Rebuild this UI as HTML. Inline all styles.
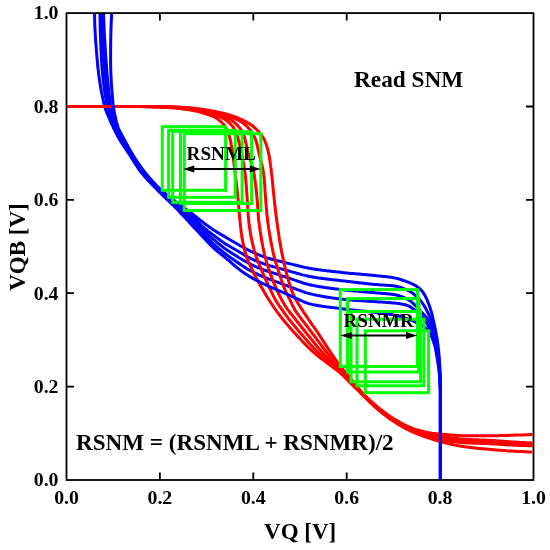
<!DOCTYPE html>
<html><head><meta charset="utf-8"><title>Read SNM</title>
<style>html,body{margin:0;padding:0;background:#fff}svg{display:block}text{font-family:"Liberation Serif","DejaVu Serif",serif;font-weight:bold;fill:#000}</style></head><body>
<svg width="550" height="550" viewBox="0 0 550 550">
<rect width="550" height="550" fill="#fff"/>
<defs><clipPath id="c"><rect x="67.4" y="14.0" width="465.2" height="465.1"/></clipPath></defs>
<rect x="66.5" y="13.1" width="467.0" height="466.9" fill="none" stroke="#000" stroke-width="1.8"/>
<path d="M159.9,480.0v-7.5M159.9,13.1v7.5M66.5,386.6h7.5M533.5,386.6h-7.5M253.3,480.0v-7.5M253.3,13.1v7.5M66.5,293.2h7.5M533.5,293.2h-7.5M346.7,480.0v-7.5M346.7,13.1v7.5M66.5,199.9h7.5M533.5,199.9h-7.5M440.1,480.0v-7.5M440.1,13.1v7.5M66.5,106.5h7.5M533.5,106.5h-7.5" stroke="#000" stroke-width="1.8" fill="none"/>
<g clip-path="url(#c)" fill="none" stroke-width="3" stroke-linejoin="round">
<path d="M440.4,481.0 L440.4,480.0 L440.4,479.0 L440.4,478.0 L440.4,477.0 L440.4,476.0 L440.4,475.0 L440.4,474.0 L440.4,473.0 L440.4,472.0 L440.4,471.0 L440.4,470.0 L440.4,469.0 L440.4,468.0 L440.4,467.0 L440.4,466.0 L440.4,465.0 L440.4,464.0 L440.4,463.0 L440.4,462.0 L440.4,461.0 L440.4,460.0 L440.4,459.0 L440.4,458.0 L440.4,457.0 L440.4,456.0 L440.4,455.0 L440.4,454.0 L440.4,453.0 L440.4,452.0 L440.4,451.0 L440.4,450.0 L440.4,449.0 L440.4,448.0 L440.4,447.0 L440.4,446.0 L440.4,445.0 L440.4,444.0 L440.4,443.0 L440.4,442.0 L440.4,441.0 L440.4,440.0 L440.4,439.0 L440.4,438.0 L440.4,437.0 L440.4,436.0 L440.4,435.0 L440.4,434.0 L440.4,433.0 L440.4,432.0 L440.4,431.0 L440.4,430.0 L440.4,429.0 L440.4,428.0 L440.4,427.0 L440.4,426.0 L440.4,425.0 L440.4,424.0 L440.4,423.0 L440.4,422.0 L440.4,421.0 L440.4,420.0 L440.4,419.0 L440.4,418.0 L440.4,417.0 L440.4,416.0 L440.4,415.0 L440.4,414.0 L440.4,413.0 L440.4,412.0 L440.4,411.0 L440.4,410.0 L440.4,409.0 L440.4,408.0 L440.4,407.0 L440.4,406.0 L440.4,405.0 L440.4,404.0 L440.4,403.0 L440.4,402.0 L440.4,401.0 L440.4,400.0 L440.4,399.0 L440.4,398.0 L440.4,397.0 L440.4,396.0 L440.4,395.0 L440.4,394.0 L440.4,393.0 L440.4,392.0 L440.4,391.0 L440.4,390.0 L440.4,389.0 L440.4,388.0 L440.4,387.0 L440.4,386.0 L440.4,385.0 L440.3,384.0 L440.3,383.0 L440.3,382.0 L440.3,381.0 L440.3,380.0 L440.2,379.0 L440.2,378.0 L440.2,377.0 L440.1,376.0 L440.1,375.0 L440.1,374.0 L440.1,373.0 L440.0,372.0 L440.0,371.0 L440.0,370.0 L439.9,369.0 L439.9,368.0 L439.8,367.0 L439.8,366.0 L439.7,365.0 L439.7,364.0 L439.6,363.0 L439.5,362.0 L439.5,361.0 L439.4,360.0 L439.3,359.0 L439.3,358.0 L439.2,357.0 L439.1,356.0 L439.0,355.0 L438.9,354.0 L438.8,353.0 L438.7,352.0 L438.6,351.0 L438.5,350.1 L438.4,349.1 L438.3,348.1 L438.2,347.1 L438.1,346.1 L437.9,345.1 L437.8,344.1 L437.7,343.1 L437.5,342.1 L437.4,341.1 L437.2,340.1 L437.1,339.1 L436.9,338.2 L436.8,337.2 L436.6,336.2 L436.4,335.2 L436.3,334.2 L436.1,333.2 L435.9,332.3 L435.7,331.3 L435.5,330.3 L435.3,329.3 L435.1,328.3 L434.9,327.3 L434.7,326.4 L434.5,325.4 L434.3,324.4 L434.1,323.4 L433.8,322.5 L433.6,321.5 L433.4,320.5 L433.2,319.5 L433.0,318.6 L432.7,317.6 L432.5,316.6 L432.3,315.6 L432.0,314.7 L431.8,313.7 L431.5,312.7 L431.2,311.8 L431.0,310.8 L430.7,309.9 L430.4,308.9 L430.1,307.9 L429.8,307.0 L429.5,306.0 L429.1,305.1 L428.8,304.2 L428.4,303.2 L428.1,302.3 L427.7,301.4 L427.3,300.4 L426.9,299.5 L426.5,298.6 L426.1,297.7 L425.6,296.8 L425.2,295.9 L424.7,295.0 L424.2,294.2 L423.7,293.3 L423.1,292.5 L422.5,291.7 L421.9,290.9 L421.3,290.2 L420.6,289.5 L419.9,288.8 L419.1,288.1 L418.3,287.5 L417.5,286.9 L416.7,286.4 L415.9,285.8 L415.0,285.3 L414.1,284.9 L413.2,284.4 L412.3,284.0 L411.4,283.5 L410.5,283.1 L409.6,282.7 L408.7,282.4 L407.7,282.0 L406.8,281.6 L405.9,281.3 L404.9,280.9 L404.0,280.6 L403.0,280.3 L402.1,280.0 L401.1,279.6 L400.2,279.3 L399.2,279.1 L398.2,278.8 L397.3,278.5 L396.3,278.3 L395.3,278.1 L394.4,277.9 L393.4,277.7 L392.4,277.5 L391.4,277.3 L390.4,277.2 L389.5,277.1 L388.5,276.9 L387.5,276.8 L386.5,276.7 L385.5,276.6 L384.5,276.5 L383.5,276.4 L382.5,276.3 L381.5,276.2 L380.5,276.1 L379.5,276.0 L378.5,275.9 L377.5,275.8 L376.5,275.7 L375.5,275.6 L374.5,275.5 L373.5,275.4 L372.5,275.3 L371.5,275.2 L370.5,275.1 L369.5,275.0 L368.6,274.9 L367.6,274.8 L366.6,274.7 L365.6,274.7 L364.6,274.6 L363.6,274.5 L362.6,274.4 L361.6,274.3 L360.6,274.2 L359.6,274.1 L358.6,274.1 L357.6,274.0 L356.6,273.9 L355.6,273.8 L354.6,273.7 L353.6,273.6 L352.6,273.5 L351.6,273.4 L350.6,273.4 L349.6,273.3 L348.6,273.2 L347.6,273.1 L346.6,273.0 L345.6,272.9 L344.6,272.8 L343.7,272.7 L342.7,272.6 L341.7,272.4 L340.7,272.3 L339.7,272.2 L338.7,272.1 L337.7,272.0 L336.7,271.9 L335.7,271.8 L334.7,271.7 L333.7,271.6 L332.7,271.5 L331.7,271.4 L330.7,271.2 L329.7,271.1 L328.7,271.0 L327.7,270.9 L326.7,270.8 L325.7,270.6 L324.7,270.5 L323.8,270.4 L322.8,270.3 L321.8,270.1 L320.8,270.0 L319.8,269.9 L318.8,269.7 L317.8,269.6 L316.8,269.5 L315.8,269.3 L314.8,269.2 L313.9,269.0 L312.9,268.9 L311.9,268.7 L310.9,268.5 L309.9,268.4 L308.9,268.2 L308.0,268.0 L307.0,267.8 L306.0,267.6 L305.0,267.4 L304.1,267.2 L303.1,266.9 L302.1,266.7 L301.1,266.5 L300.2,266.3 L299.2,266.0 L298.2,265.8 L297.2,265.5 L296.3,265.3 L295.3,265.1 L294.3,264.8 L293.3,264.6 L292.4,264.4 L291.4,264.1 L290.4,263.9 L289.5,263.7 L288.5,263.4 L287.5,263.2 L286.5,263.0 L285.6,262.7 L284.6,262.5 L283.6,262.2 L282.7,262.0 L281.7,261.7 L280.7,261.5 L279.8,261.2 L278.8,261.0 L277.8,260.7 L276.8,260.5 L275.9,260.2 L274.9,260.0 L273.9,259.7 L273.0,259.5 L272.0,259.2 L271.0,259.0 L270.1,258.7 L269.1,258.4 L268.1,258.1 L267.2,257.9 L266.2,257.6 L265.3,257.2 L264.4,256.9 L263.4,256.6 L262.5,256.3 L261.5,255.9 L260.6,255.6 L259.7,255.2 L258.7,254.8 L257.8,254.4 L256.9,254.0 L256.0,253.6 L255.1,253.2 L254.1,252.8 L253.2,252.4 L252.3,252.0 L251.4,251.5 L250.5,251.1 L249.6,250.7 L248.7,250.2 L247.8,249.8 L247.0,249.3 L246.1,248.9 L245.2,248.4 L244.3,247.9 L243.4,247.4 L242.6,246.9 L241.7,246.4 L240.8,246.0 L239.9,245.5 L239.1,245.0 L238.2,244.5 L237.3,244.0 L236.5,243.5 L235.6,243.0 L234.7,242.5 L233.9,242.0 L233.0,241.5 L232.1,241.0 L231.3,240.5 L230.4,240.0 L229.5,239.5 L228.7,239.0 L227.8,238.5 L227.0,238.0 L226.1,237.4 L225.2,236.9 L224.4,236.4 L223.5,235.9 L222.6,235.4 L221.8,234.9 L220.9,234.4 L220.0,233.9 L219.2,233.4 L218.3,232.9 L217.5,232.4 L216.6,231.9 L215.8,231.3 L214.9,230.8 L214.1,230.3 L213.2,229.7 L212.4,229.2 L211.6,228.6 L210.8,228.0 L209.9,227.5 L209.1,226.9 L208.3,226.3 L207.5,225.7 L206.7,225.1 L205.9,224.5 L205.1,224.0 L204.3,223.4 L203.5,222.7 L202.7,222.1 L201.9,221.5 L201.1,220.9 L200.3,220.3 L199.5,219.7 L198.8,219.0 L198.0,218.4 L197.2,217.8 L196.4,217.1 L195.7,216.5 L194.9,215.9 L194.1,215.2 L193.3,214.6 L192.5,214.0 L191.7,213.4 L190.9,212.8 L190.1,212.2 L189.3,211.6 L188.5,211.0 L187.7,210.5 L186.9,209.9 L186.1,209.3 L185.3,208.7 L184.4,208.1 L183.6,207.6 L182.8,207.0 L182.0,206.4 L181.2,205.8 L180.4,205.2 L179.6,204.6 L178.8,204.0 L178.0,203.4 L177.2,202.8 L176.4,202.3 L175.6,201.6 L174.8,201.0 L174.0,200.4 L173.2,199.8 L172.4,199.2 L171.6,198.6 L170.8,198.0 L170.0,197.4 L169.2,196.8 L168.4,196.2 L167.6,195.5 L166.8,194.9 L166.1,194.3 L165.3,193.6 L164.5,193.0 L163.8,192.3 L163.0,191.7 L162.3,191.0 L161.6,190.4 L160.8,189.7 L160.1,189.0 L159.4,188.3 L158.7,187.6 L157.9,186.9 L157.2,186.2 L156.5,185.5 L155.8,184.8 L155.1,184.0 L154.4,183.3 L153.8,182.6 L153.1,181.8 L152.4,181.1 L151.7,180.4 L151.1,179.6 L150.4,178.9 L149.7,178.1 L149.1,177.3 L148.4,176.6 L147.8,175.8 L147.1,175.0 L146.5,174.3 L145.9,173.5 L145.3,172.7 L144.6,171.9 L144.0,171.2 L143.4,170.4 L142.8,169.6 L142.2,168.8 L141.6,168.0 L141.0,167.2 L140.5,166.3 L139.9,165.5 L139.3,164.7 L138.7,163.9 L138.2,163.1 L137.6,162.2 L137.0,161.4 L136.5,160.6 L135.9,159.7 L135.4,158.9 L134.8,158.0 L134.3,157.2 L133.8,156.4 L133.2,155.5 L132.7,154.7 L132.2,153.8 L131.7,152.9 L131.2,152.1 L130.7,151.2 L130.2,150.4 L129.7,149.5 L129.2,148.6 L128.7,147.8 L128.2,146.9 L127.7,146.0 L127.2,145.1 L126.8,144.2 L126.3,143.4 L125.8,142.5 L125.3,141.6 L124.9,140.7 L124.4,139.8 L123.9,138.9 L123.5,138.1 L123.0,137.2 L122.5,136.3 L122.0,135.4 L121.6,134.5 L121.1,133.6 L120.6,132.8 L120.1,131.9 L119.6,131.0 L119.1,130.1 L118.6,129.2 L118.2,128.3 L117.7,127.5 L117.2,126.6 L116.8,125.7 L116.4,124.8 L116.0,123.9 L115.6,123.0 L115.2,122.0 L114.8,121.1 L114.5,120.2 L114.1,119.3 L113.8,118.3 L113.5,117.4 L113.2,116.4 L112.9,115.5 L112.7,114.5 L112.4,113.5 L112.1,112.6 L111.9,111.6 L111.7,110.6 L111.5,109.6 L111.3,108.6 L111.1,107.7 L110.9,106.7 L110.7,105.7 L110.6,104.7 L110.4,103.7 L110.3,102.8 L110.1,101.8 L110.0,100.8 L109.8,99.8 L109.7,98.8 L109.6,97.8 L109.4,96.8 L109.3,95.8 L109.2,94.9 L109.1,93.9 L108.9,92.9 L108.8,91.9 L108.7,90.9 L108.6,89.9 L108.5,88.9 L108.4,87.9 L108.3,86.9 L108.2,85.9 L108.1,84.9 L108.0,83.9 L107.9,82.9 L107.8,81.9 L107.7,80.9 L107.6,79.9 L107.5,78.9 L107.4,77.9 L107.3,76.9 L107.2,75.9 L107.1,74.9 L107.1,73.9 L107.0,72.9 L106.9,71.9 L106.8,70.9 L106.7,69.9 L106.7,68.9 L106.6,67.9 L106.5,66.9 L106.4,65.9 L106.4,64.9 L106.3,63.9 L106.2,62.9 L106.1,61.9 L106.1,60.9 L106.0,59.9 L105.9,58.9 L105.9,57.9 L105.8,56.9 L105.7,55.9 L105.7,55.0 L105.6,54.0 L105.5,53.0 L105.5,52.0 L105.4,51.0 L105.3,50.0 L105.3,49.0 L105.2,48.0 L105.1,47.0 L105.1,46.0 L105.0,45.0 L105.0,44.0 L104.9,43.0 L104.8,42.0 L104.8,41.0 L104.7,40.0 L104.7,39.0 L104.6,38.0 L104.5,37.0 L104.5,36.0 L104.4,35.0 L104.4,34.0 L104.3,33.0 L104.3,32.0 L104.2,31.0 L104.2,30.0 L104.1,29.0 L104.1,28.0 L104.0,27.0 L104.0,26.0 L104.0,25.0 L103.9,24.0 L103.9,23.0 L103.8,22.0 L103.8,21.0 L103.8,20.0 L103.7,19.0 L103.7,18.0 L103.7,17.0 L103.6,16.0 L103.6,15.0 L103.6,14.0 L103.5,13.0 L103.5,12.0" stroke="#00f"/>
<path d="M440.4,481.0 L440.4,480.0 L440.4,479.0 L440.4,478.0 L440.4,477.0 L440.4,476.0 L440.4,475.0 L440.4,474.0 L440.4,473.0 L440.4,472.0 L440.4,471.0 L440.4,470.0 L440.4,469.0 L440.4,468.0 L440.4,467.0 L440.4,466.0 L440.4,465.0 L440.4,464.0 L440.4,463.0 L440.4,462.0 L440.4,461.0 L440.4,460.0 L440.4,459.0 L440.4,458.0 L440.4,457.0 L440.4,456.0 L440.4,455.0 L440.4,454.0 L440.4,453.0 L440.4,452.0 L440.4,451.0 L440.4,450.0 L440.4,449.0 L440.4,448.0 L440.4,447.0 L440.4,446.0 L440.4,445.0 L440.4,444.0 L440.4,443.0 L440.4,442.0 L440.4,441.0 L440.4,440.0 L440.4,439.0 L440.4,438.0 L440.4,437.0 L440.4,436.0 L440.4,435.0 L440.4,434.0 L440.4,433.0 L440.4,432.0 L440.4,431.0 L440.4,430.0 L440.4,429.0 L440.4,428.0 L440.4,427.0 L440.4,426.0 L440.4,425.0 L440.4,424.0 L440.4,423.0 L440.4,422.0 L440.4,421.0 L440.4,420.0 L440.4,419.0 L440.4,418.0 L440.4,417.0 L440.4,416.0 L440.4,415.0 L440.4,414.0 L440.4,413.0 L440.4,412.0 L440.4,411.0 L440.4,410.0 L440.4,409.0 L440.4,408.0 L440.4,407.0 L440.4,406.0 L440.4,405.0 L440.4,404.0 L440.4,403.0 L440.4,402.0 L440.4,401.0 L440.4,400.0 L440.4,399.0 L440.4,398.0 L440.4,397.0 L440.4,396.0 L440.4,395.0 L440.4,394.0 L440.4,393.0 L440.4,392.0 L440.4,391.0 L440.4,390.0 L440.4,389.0 L440.4,388.0 L440.4,387.0 L440.3,386.0 L440.3,385.0 L440.3,384.0 L440.3,383.0 L440.2,382.0 L440.2,381.0 L440.2,380.0 L440.1,379.0 L440.1,378.0 L440.1,377.0 L440.0,376.0 L440.0,375.0 L439.9,374.0 L439.9,373.0 L439.8,372.0 L439.8,371.0 L439.7,370.0 L439.7,369.0 L439.6,368.0 L439.5,367.0 L439.5,366.0 L439.4,365.0 L439.3,364.0 L439.2,363.0 L439.1,362.0 L439.1,361.0 L439.0,360.0 L438.9,359.0 L438.8,358.0 L438.7,357.0 L438.6,356.0 L438.5,355.0 L438.3,354.0 L438.2,353.0 L438.1,352.0 L438.0,351.0 L437.8,350.1 L437.7,349.1 L437.6,348.1 L437.4,347.1 L437.3,346.1 L437.1,345.1 L436.9,344.1 L436.8,343.1 L436.6,342.2 L436.4,341.2 L436.2,340.2 L436.0,339.2 L435.8,338.2 L435.6,337.2 L435.4,336.3 L435.2,335.3 L435.0,334.3 L434.7,333.3 L434.5,332.4 L434.3,331.4 L434.0,330.4 L433.8,329.5 L433.5,328.5 L433.3,327.5 L433.0,326.6 L432.7,325.6 L432.4,324.6 L432.2,323.7 L431.9,322.7 L431.5,321.8 L431.2,320.8 L430.9,319.9 L430.5,319.0 L430.2,318.0 L429.8,317.1 L429.4,316.2 L429.0,315.3 L428.6,314.3 L428.2,313.4 L427.7,312.5 L427.3,311.6 L426.9,310.7 L426.4,309.8 L425.9,308.9 L425.5,308.1 L425.0,307.2 L424.5,306.3 L424.0,305.5 L423.4,304.6 L422.9,303.8 L422.3,303.0 L421.7,302.2 L421.1,301.4 L420.5,300.6 L419.8,299.9 L419.2,299.1 L418.5,298.4 L417.8,297.6 L417.1,296.9 L416.4,296.2 L415.6,295.6 L414.9,294.9 L414.1,294.3 L413.3,293.7 L412.5,293.1 L411.7,292.5 L410.8,292.0 L410.0,291.5 L409.1,291.0 L408.2,290.6 L407.3,290.1 L406.4,289.7 L405.5,289.3 L404.6,288.9 L403.6,288.6 L402.7,288.2 L401.7,287.8 L400.8,287.5 L399.8,287.2 L398.9,286.9 L397.9,286.7 L396.9,286.4 L395.9,286.2 L395.0,286.1 L394.0,285.9 L393.0,285.8 L392.0,285.7 L391.0,285.6 L390.0,285.5 L389.0,285.4 L388.0,285.4 L387.0,285.3 L386.0,285.3 L385.0,285.2 L384.0,285.1 L383.0,285.1 L382.0,285.0 L381.0,285.0 L380.0,284.9 L379.0,284.8 L378.0,284.7 L377.0,284.6 L376.0,284.6 L375.0,284.5 L374.1,284.4 L373.1,284.3 L372.1,284.2 L371.1,284.1 L370.1,284.0 L369.1,283.9 L368.1,283.8 L367.1,283.7 L366.1,283.6 L365.1,283.5 L364.1,283.3 L363.1,283.2 L362.1,283.1 L361.1,283.0 L360.1,282.9 L359.1,282.8 L358.1,282.7 L357.1,282.5 L356.1,282.4 L355.2,282.3 L354.2,282.2 L353.2,282.1 L352.2,282.0 L351.2,281.8 L350.2,281.7 L349.2,281.6 L348.2,281.5 L347.2,281.4 L346.2,281.2 L345.2,281.1 L344.2,281.0 L343.2,280.9 L342.2,280.8 L341.2,280.7 L340.2,280.6 L339.2,280.4 L338.3,280.3 L337.3,280.2 L336.3,280.1 L335.3,280.0 L334.3,279.9 L333.3,279.8 L332.3,279.7 L331.3,279.6 L330.3,279.4 L329.3,279.3 L328.3,279.2 L327.3,279.1 L326.3,279.0 L325.3,278.8 L324.3,278.7 L323.3,278.6 L322.3,278.5 L321.3,278.3 L320.3,278.2 L319.4,278.1 L318.4,277.9 L317.4,277.8 L316.4,277.6 L315.4,277.5 L314.4,277.3 L313.4,277.2 L312.5,277.0 L311.5,276.8 L310.5,276.6 L309.5,276.5 L308.5,276.3 L307.6,276.0 L306.6,275.8 L305.6,275.6 L304.7,275.4 L303.7,275.1 L302.7,274.9 L301.7,274.6 L300.8,274.3 L299.8,274.1 L298.9,273.8 L297.9,273.5 L296.9,273.2 L296.0,273.0 L295.0,272.7 L294.0,272.4 L293.1,272.2 L292.1,271.9 L291.1,271.6 L290.2,271.4 L289.2,271.1 L288.2,270.8 L287.3,270.6 L286.3,270.3 L285.4,270.0 L284.4,269.7 L283.4,269.5 L282.5,269.2 L281.5,268.9 L280.5,268.7 L279.6,268.4 L278.6,268.1 L277.6,267.9 L276.7,267.6 L275.7,267.3 L274.7,267.1 L273.8,266.8 L272.8,266.5 L271.9,266.2 L270.9,266.0 L269.9,265.7 L269.0,265.4 L268.0,265.1 L267.1,264.8 L266.1,264.5 L265.2,264.2 L264.2,263.9 L263.3,263.6 L262.3,263.2 L261.4,262.9 L260.4,262.6 L259.5,262.2 L258.6,261.9 L257.6,261.5 L256.7,261.1 L255.8,260.7 L254.8,260.3 L253.9,260.0 L253.0,259.5 L252.1,259.1 L251.2,258.7 L250.3,258.3 L249.4,257.8 L248.5,257.4 L247.7,256.9 L246.8,256.4 L245.9,255.9 L245.1,255.4 L244.2,254.9 L243.3,254.4 L242.5,253.8 L241.6,253.3 L240.8,252.8 L239.9,252.3 L239.0,251.8 L238.2,251.3 L237.3,250.8 L236.4,250.3 L235.6,249.8 L234.7,249.3 L233.8,248.8 L233.0,248.3 L232.1,247.8 L231.2,247.3 L230.4,246.8 L229.5,246.3 L228.6,245.8 L227.8,245.3 L226.9,244.8 L226.1,244.2 L225.2,243.7 L224.4,243.2 L223.6,242.6 L222.7,242.0 L221.9,241.5 L221.1,240.9 L220.3,240.3 L219.5,239.7 L218.7,239.1 L217.9,238.5 L217.1,237.9 L216.3,237.3 L215.5,236.7 L214.7,236.1 L213.9,235.5 L213.0,234.9 L212.2,234.3 L211.4,233.7 L210.6,233.1 L209.8,232.5 L209.0,231.9 L208.3,231.3 L207.5,230.7 L206.7,230.0 L205.9,229.4 L205.1,228.8 L204.3,228.1 L203.6,227.5 L202.8,226.8 L202.1,226.2 L201.4,225.5 L200.7,224.8 L200.0,224.1 L199.3,223.4 L198.6,222.6 L197.9,221.9 L197.3,221.2 L196.6,220.4 L195.9,219.7 L195.2,218.9 L194.6,218.2 L193.9,217.5 L193.1,216.8 L192.4,216.2 L191.7,215.5 L190.9,214.9 L190.1,214.2 L189.4,213.6 L188.6,213.0 L187.8,212.4 L187.0,211.8 L186.2,211.2 L185.4,210.6 L184.6,210.0 L183.8,209.4 L183.0,208.8 L182.1,208.2 L181.3,207.6 L180.5,207.0 L179.7,206.4 L178.9,205.8 L178.1,205.1 L177.4,204.5 L176.6,203.9 L175.8,203.3 L175.0,202.7 L174.2,202.0 L173.4,201.4 L172.7,200.8 L171.9,200.1 L171.1,199.5 L170.3,198.8 L169.6,198.2 L168.8,197.6 L168.0,196.9 L167.3,196.3 L166.5,195.6 L165.8,195.0 L165.0,194.3 L164.3,193.7 L163.5,193.0 L162.8,192.3 L162.0,191.6 L161.3,191.0 L160.6,190.3 L159.8,189.6 L159.1,188.9 L158.4,188.2 L157.7,187.5 L157.0,186.8 L156.3,186.1 L155.5,185.4 L154.8,184.7 L154.1,184.0 L153.4,183.2 L152.7,182.5 L152.0,181.8 L151.4,181.1 L150.7,180.3 L150.0,179.6 L149.3,178.9 L148.6,178.1 L148.0,177.4 L147.3,176.6 L146.7,175.9 L146.0,175.1 L145.4,174.3 L144.8,173.6 L144.1,172.8 L143.5,172.0 L142.9,171.2 L142.3,170.4 L141.7,169.6 L141.1,168.8 L140.5,168.0 L139.9,167.2 L139.3,166.4 L138.8,165.6 L138.2,164.8 L137.6,163.9 L137.1,163.1 L136.5,162.3 L135.9,161.4 L135.4,160.6 L134.8,159.8 L134.3,158.9 L133.7,158.1 L133.2,157.3 L132.6,156.4 L132.1,155.6 L131.6,154.7 L131.0,153.9 L130.5,153.1 L129.9,152.2 L129.4,151.4 L128.8,150.5 L128.3,149.7 L127.7,148.9 L127.2,148.0 L126.6,147.2 L126.1,146.3 L125.6,145.5 L125.0,144.6 L124.5,143.8 L124.0,142.9 L123.5,142.1 L123.0,141.2 L122.5,140.3 L122.0,139.5 L121.5,138.6 L121.0,137.7 L120.6,136.8 L120.1,135.9 L119.6,135.1 L119.2,134.2 L118.7,133.3 L118.3,132.4 L117.9,131.5 L117.4,130.6 L117.0,129.7 L116.6,128.8 L116.2,127.8 L115.8,126.9 L115.4,126.0 L115.0,125.1 L114.6,124.1 L114.2,123.2 L113.9,122.3 L113.5,121.3 L113.2,120.4 L112.9,119.5 L112.5,118.5 L112.2,117.6 L111.9,116.6 L111.6,115.7 L111.4,114.7 L111.1,113.7 L110.8,112.8 L110.5,111.8 L110.3,110.8 L110.1,109.9 L109.9,108.9 L109.6,107.9 L109.4,106.9 L109.3,105.9 L109.1,105.0 L108.9,104.0 L108.7,103.0 L108.6,102.0 L108.4,101.0 L108.3,100.1 L108.1,99.1 L108.0,98.1 L107.8,97.1 L107.7,96.1 L107.5,95.1 L107.4,94.1 L107.2,93.1 L107.1,92.2 L107.0,91.2 L106.9,90.2 L106.7,89.2 L106.6,88.2 L106.5,87.2 L106.4,86.2 L106.2,85.2 L106.1,84.2 L106.0,83.2 L105.9,82.2 L105.8,81.2 L105.7,80.2 L105.6,79.2 L105.5,78.2 L105.4,77.2 L105.3,76.2 L105.2,75.2 L105.1,74.2 L105.0,73.2 L104.9,72.2 L104.8,71.2 L104.7,70.2 L104.7,69.2 L104.6,68.2 L104.5,67.2 L104.4,66.2 L104.4,65.2 L104.3,64.2 L104.2,63.2 L104.1,62.2 L104.1,61.2 L104.0,60.2 L104.0,59.2 L103.9,58.2 L103.8,57.2 L103.8,56.2 L103.7,55.2 L103.7,54.2 L103.6,53.2 L103.5,52.2 L103.5,51.2 L103.4,50.3 L103.4,49.3 L103.3,48.3 L103.2,47.3 L103.2,46.3 L103.1,45.3 L103.1,44.3 L103.0,43.3 L103.0,42.3 L102.9,41.3 L102.9,40.3 L102.8,39.3 L102.8,38.3 L102.7,37.3 L102.7,36.3 L102.6,35.3 L102.6,34.3 L102.5,33.3 L102.5,32.3 L102.5,31.3 L102.4,30.3 L102.4,29.3 L102.4,28.3 L102.3,27.3 L102.3,26.3 L102.3,25.3 L102.2,24.3 L102.2,23.3 L102.2,22.3 L102.1,21.3 L102.1,20.3 L102.1,19.3 L102.1,18.3 L102.1,17.3 L102.1,16.3 L102.0,15.3 L102.0,14.3 L102.0,13.3 L102.0,12.3" stroke="#00f"/>
<path d="M440.4,481.0 L440.4,480.0 L440.4,479.0 L440.4,478.0 L440.4,477.0 L440.4,476.0 L440.4,475.0 L440.4,474.0 L440.4,473.0 L440.4,472.0 L440.4,471.0 L440.4,470.0 L440.4,469.0 L440.4,468.0 L440.4,467.0 L440.4,466.0 L440.4,465.0 L440.4,464.0 L440.4,463.0 L440.4,462.0 L440.4,461.0 L440.4,460.0 L440.4,459.0 L440.4,458.0 L440.4,457.0 L440.4,456.0 L440.4,455.0 L440.4,454.0 L440.4,453.0 L440.4,452.0 L440.4,451.0 L440.4,450.0 L440.4,449.0 L440.4,448.0 L440.4,447.0 L440.4,446.0 L440.4,445.0 L440.4,444.0 L440.4,443.0 L440.4,442.0 L440.4,441.0 L440.4,440.0 L440.4,439.0 L440.4,438.0 L440.4,437.0 L440.4,436.0 L440.4,435.0 L440.4,434.0 L440.4,433.0 L440.4,432.0 L440.4,431.0 L440.4,430.0 L440.4,429.0 L440.4,428.0 L440.4,427.0 L440.4,426.0 L440.4,425.0 L440.4,424.0 L440.4,423.0 L440.4,422.0 L440.4,421.0 L440.4,420.0 L440.4,419.0 L440.4,418.0 L440.4,417.0 L440.4,416.0 L440.4,415.0 L440.4,414.0 L440.4,413.0 L440.4,412.0 L440.4,411.0 L440.4,410.0 L440.4,409.0 L440.4,408.0 L440.4,407.0 L440.4,406.0 L440.4,405.0 L440.4,404.0 L440.4,403.0 L440.4,402.0 L440.4,401.0 L440.4,400.0 L440.4,399.0 L440.4,398.0 L440.4,397.0 L440.4,396.0 L440.4,395.0 L440.4,394.0 L440.4,393.0 L440.4,392.0 L440.4,391.0 L440.4,390.0 L440.4,389.0 L440.4,388.0 L440.3,387.0 L440.3,386.0 L440.3,385.0 L440.3,384.0 L440.2,383.0 L440.2,382.0 L440.2,381.0 L440.1,380.0 L440.1,379.0 L440.0,378.0 L440.0,377.0 L439.9,376.0 L439.8,375.0 L439.8,374.0 L439.7,373.0 L439.6,372.0 L439.6,371.0 L439.5,370.0 L439.4,369.0 L439.3,368.0 L439.3,367.0 L439.2,366.0 L439.1,365.0 L439.0,364.0 L438.9,363.0 L438.7,362.0 L438.6,361.0 L438.5,360.0 L438.4,359.1 L438.3,358.1 L438.1,357.1 L438.0,356.1 L437.9,355.1 L437.8,354.1 L437.6,353.1 L437.5,352.1 L437.3,351.1 L437.2,350.1 L437.0,349.1 L436.8,348.2 L436.7,347.2 L436.5,346.2 L436.3,345.2 L436.1,344.2 L435.9,343.2 L435.7,342.3 L435.5,341.3 L435.3,340.3 L435.0,339.3 L434.8,338.4 L434.5,337.4 L434.3,336.4 L434.0,335.5 L433.7,334.5 L433.4,333.6 L433.1,332.6 L432.8,331.7 L432.5,330.7 L432.2,329.8 L431.8,328.8 L431.5,327.9 L431.1,326.9 L430.7,326.0 L430.3,325.1 L429.9,324.2 L429.5,323.3 L429.1,322.4 L428.6,321.5 L428.2,320.6 L427.7,319.7 L427.2,318.9 L426.6,318.0 L426.0,317.2 L425.4,316.4 L424.8,315.7 L424.2,314.9 L423.5,314.2 L422.8,313.4 L422.1,312.7 L421.4,312.0 L420.7,311.3 L420.1,310.5 L419.4,309.8 L418.7,309.1 L418.0,308.3 L417.4,307.6 L416.7,306.8 L416.0,306.1 L415.3,305.4 L414.6,304.7 L413.8,304.0 L413.1,303.3 L412.3,302.7 L411.6,302.0 L410.8,301.4 L410.0,300.8 L409.1,300.3 L408.3,299.7 L407.5,299.2 L406.6,298.8 L405.7,298.3 L404.8,297.9 L403.9,297.5 L403.0,297.1 L402.0,296.8 L401.1,296.4 L400.1,296.1 L399.2,295.8 L398.2,295.5 L397.2,295.3 L396.3,295.0 L395.3,294.8 L394.3,294.6 L393.3,294.5 L392.3,294.3 L391.3,294.2 L390.4,294.1 L389.4,294.0 L388.4,293.9 L387.4,293.8 L386.4,293.7 L385.4,293.6 L384.4,293.6 L383.4,293.5 L382.4,293.4 L381.4,293.3 L380.4,293.2 L379.4,293.1 L378.4,293.1 L377.4,293.0 L376.4,292.9 L375.4,292.8 L374.4,292.7 L373.4,292.6 L372.4,292.5 L371.4,292.4 L370.4,292.4 L369.4,292.3 L368.4,292.2 L367.4,292.1 L366.4,292.0 L365.4,291.9 L364.4,291.9 L363.4,291.8 L362.4,291.7 L361.4,291.6 L360.4,291.5 L359.4,291.4 L358.4,291.3 L357.4,291.2 L356.4,291.1 L355.5,291.1 L354.5,291.0 L353.5,290.9 L352.5,290.8 L351.5,290.7 L350.5,290.6 L349.5,290.5 L348.5,290.4 L347.5,290.3 L346.5,290.2 L345.5,290.0 L344.5,289.9 L343.5,289.8 L342.5,289.7 L341.5,289.6 L340.5,289.5 L339.5,289.4 L338.5,289.3 L337.5,289.1 L336.5,289.0 L335.6,288.9 L334.6,288.8 L333.6,288.7 L332.6,288.5 L331.6,288.4 L330.6,288.3 L329.6,288.1 L328.6,288.0 L327.6,287.9 L326.6,287.7 L325.6,287.6 L324.6,287.4 L323.6,287.3 L322.6,287.1 L321.6,287.0 L320.7,286.8 L319.7,286.7 L318.7,286.5 L317.7,286.3 L316.7,286.2 L315.7,286.0 L314.8,285.8 L313.8,285.6 L312.8,285.4 L311.8,285.2 L310.9,285.0 L309.9,284.8 L308.9,284.6 L308.0,284.3 L307.0,284.1 L306.0,283.8 L305.1,283.5 L304.1,283.3 L303.2,283.0 L302.2,282.6 L301.3,282.3 L300.3,282.0 L299.4,281.7 L298.4,281.4 L297.5,281.0 L296.5,280.7 L295.6,280.4 L294.6,280.1 L293.7,279.8 L292.7,279.4 L291.8,279.1 L290.8,278.8 L289.9,278.5 L288.9,278.1 L288.0,277.8 L287.0,277.5 L286.1,277.2 L285.1,276.8 L284.2,276.5 L283.2,276.2 L282.3,275.9 L281.3,275.6 L280.4,275.3 L279.4,274.9 L278.5,274.6 L277.5,274.3 L276.6,274.0 L275.6,273.7 L274.7,273.4 L273.7,273.1 L272.8,272.8 L271.8,272.5 L270.9,272.2 L269.9,271.9 L269.0,271.6 L268.0,271.3 L267.1,271.0 L266.1,270.7 L265.2,270.3 L264.2,270.0 L263.3,269.6 L262.4,269.3 L261.4,268.9 L260.5,268.6 L259.6,268.2 L258.6,267.8 L257.7,267.4 L256.8,267.1 L255.9,266.7 L254.9,266.3 L254.0,265.9 L253.1,265.4 L252.2,265.0 L251.3,264.6 L250.4,264.1 L249.5,263.7 L248.6,263.2 L247.8,262.8 L246.9,262.3 L246.0,261.8 L245.1,261.3 L244.3,260.8 L243.4,260.3 L242.6,259.8 L241.7,259.2 L240.9,258.7 L240.0,258.2 L239.1,257.7 L238.3,257.2 L237.4,256.6 L236.6,256.1 L235.7,255.6 L234.9,255.1 L234.0,254.5 L233.2,254.0 L232.3,253.5 L231.5,252.9 L230.6,252.4 L229.8,251.8 L229.0,251.3 L228.1,250.7 L227.3,250.2 L226.5,249.6 L225.7,249.0 L224.9,248.5 L224.1,247.9 L223.2,247.3 L222.4,246.7 L221.7,246.1 L220.9,245.5 L220.1,244.8 L219.3,244.2 L218.5,243.6 L217.7,243.0 L217.0,242.3 L216.2,241.7 L215.4,241.0 L214.7,240.4 L213.9,239.8 L213.1,239.1 L212.4,238.5 L211.6,237.8 L210.8,237.1 L210.1,236.5 L209.3,235.8 L208.6,235.2 L207.8,234.5 L207.1,233.8 L206.3,233.2 L205.6,232.5 L204.9,231.8 L204.2,231.1 L203.4,230.4 L202.7,229.7 L202.0,229.0 L201.3,228.3 L200.6,227.6 L200.0,226.8 L199.3,226.1 L198.6,225.3 L198.0,224.6 L197.3,223.8 L196.7,223.1 L196.0,222.3 L195.4,221.6 L194.7,220.8 L194.0,220.1 L193.3,219.4 L192.6,218.7 L191.9,218.0 L191.1,217.4 L190.4,216.7 L189.6,216.1 L188.9,215.4 L188.1,214.8 L187.3,214.1 L186.5,213.5 L185.8,212.9 L185.0,212.2 L184.2,211.6 L183.4,211.0 L182.6,210.4 L181.8,209.7 L181.1,209.1 L180.3,208.5 L179.5,207.8 L178.7,207.2 L177.9,206.6 L177.2,205.9 L176.4,205.3 L175.6,204.6 L174.9,204.0 L174.1,203.3 L173.4,202.7 L172.6,202.0 L171.9,201.4 L171.1,200.7 L170.4,200.0 L169.6,199.4 L168.9,198.7 L168.1,198.1 L167.4,197.4 L166.6,196.7 L165.9,196.1 L165.1,195.4 L164.4,194.7 L163.7,194.0 L162.9,193.4 L162.2,192.7 L161.5,192.0 L160.7,191.3 L160.0,190.6 L159.3,189.9 L158.6,189.2 L157.8,188.5 L157.1,187.8 L156.4,187.1 L155.7,186.4 L155.0,185.7 L154.3,185.0 L153.5,184.3 L152.8,183.6 L152.1,182.9 L151.4,182.2 L150.7,181.5 L150.0,180.7 L149.3,180.0 L148.6,179.3 L148.0,178.6 L147.3,177.8 L146.6,177.1 L145.9,176.3 L145.3,175.6 L144.6,174.8 L144.0,174.1 L143.4,173.3 L142.7,172.5 L142.1,171.8 L141.5,171.0 L140.9,170.2 L140.3,169.4 L139.7,168.6 L139.1,167.8 L138.5,167.0 L138.0,166.2 L137.4,165.3 L136.8,164.5 L136.2,163.7 L135.7,162.9 L135.1,162.0 L134.6,161.2 L134.0,160.3 L133.5,159.5 L132.9,158.7 L132.4,157.8 L131.8,157.0 L131.3,156.2 L130.7,155.3 L130.2,154.5 L129.6,153.6 L129.1,152.8 L128.5,152.0 L128.0,151.1 L127.4,150.3 L126.9,149.4 L126.3,148.6 L125.8,147.8 L125.2,146.9 L124.7,146.1 L124.2,145.2 L123.6,144.4 L123.1,143.5 L122.6,142.7 L122.1,141.8 L121.6,141.0 L121.1,140.1 L120.6,139.2 L120.1,138.4 L119.6,137.5 L119.1,136.6 L118.7,135.7 L118.2,134.8 L117.8,133.9 L117.3,133.0 L116.9,132.1 L116.5,131.2 L116.1,130.3 L115.6,129.4 L115.2,128.5 L114.8,127.6 L114.4,126.7 L114.0,125.7 L113.6,124.8 L113.3,123.9 L112.9,123.0 L112.5,122.0 L112.1,121.1 L111.8,120.2 L111.4,119.2 L111.1,118.3 L110.7,117.4 L110.4,116.4 L110.0,115.5 L109.7,114.5 L109.4,113.6 L109.1,112.6 L108.8,111.7 L108.5,110.7 L108.2,109.8 L107.9,108.8 L107.7,107.8 L107.5,106.9 L107.2,105.9 L107.0,104.9 L106.8,104.0 L106.7,103.0 L106.5,102.0 L106.3,101.0 L106.1,100.0 L105.9,99.1 L105.8,98.1 L105.6,97.1 L105.4,96.1 L105.3,95.1 L105.1,94.1 L105.0,93.2 L104.8,92.2 L104.7,91.2 L104.5,90.2 L104.4,89.2 L104.2,88.2 L104.1,87.2 L104.0,86.2 L103.8,85.2 L103.7,84.2 L103.6,83.2 L103.4,82.2 L103.3,81.2 L103.2,80.2 L103.1,79.2 L103.0,78.2 L102.9,77.2 L102.8,76.2 L102.7,75.2 L102.6,74.2 L102.5,73.2 L102.4,72.2 L102.3,71.2 L102.2,70.2 L102.1,69.2 L102.0,68.2 L102.0,67.2 L101.9,66.2 L101.8,65.2 L101.8,64.2 L101.7,63.2 L101.6,62.2 L101.6,61.2 L101.5,60.2 L101.5,59.2 L101.4,58.2 L101.4,57.2 L101.3,56.2 L101.3,55.3 L101.2,54.3 L101.2,53.3 L101.1,52.3 L101.1,51.3 L101.0,50.3 L101.0,49.3 L100.9,48.3 L100.9,47.3 L100.9,46.3 L100.8,45.3 L100.8,44.3 L100.7,43.3 L100.7,42.3 L100.6,41.3 L100.6,40.3 L100.6,39.3 L100.5,38.3 L100.5,37.3 L100.5,36.3 L100.4,35.3 L100.4,34.3 L100.4,33.3 L100.3,32.3 L100.3,31.3 L100.3,30.3 L100.2,29.3 L100.2,28.3 L100.2,27.3 L100.2,26.3 L100.2,25.3 L100.1,24.3 L100.1,23.3 L100.1,22.3 L100.1,21.3 L100.1,20.3 L100.1,19.3 L100.0,18.3 L100.0,17.3 L100.0,16.3 L100.0,15.3 L100.0,14.3 L100.0,13.3 L100.0,12.3" stroke="#00f"/>
<path d="M440.4,481.0 L440.4,480.0 L440.4,479.0 L440.4,478.0 L440.4,477.0 L440.4,476.0 L440.4,475.0 L440.4,474.0 L440.4,473.0 L440.4,472.0 L440.4,471.0 L440.4,470.0 L440.4,469.0 L440.4,468.0 L440.4,467.0 L440.4,466.0 L440.4,465.0 L440.4,464.0 L440.4,463.0 L440.4,462.0 L440.4,461.0 L440.4,460.0 L440.4,459.0 L440.4,458.0 L440.4,457.0 L440.4,456.0 L440.4,455.0 L440.4,454.0 L440.4,453.0 L440.4,452.0 L440.4,451.0 L440.4,450.0 L440.4,449.0 L440.4,448.0 L440.4,447.0 L440.4,446.0 L440.4,445.0 L440.4,444.0 L440.4,443.0 L440.4,442.0 L440.4,441.0 L440.4,440.0 L440.4,439.0 L440.4,438.0 L440.4,437.0 L440.4,436.0 L440.4,435.0 L440.4,434.0 L440.4,433.0 L440.4,432.0 L440.4,431.0 L440.4,430.0 L440.4,429.0 L440.4,428.0 L440.4,427.0 L440.4,426.0 L440.4,425.0 L440.4,424.0 L440.4,423.0 L440.4,422.0 L440.4,421.0 L440.4,420.0 L440.4,419.0 L440.4,418.0 L440.4,417.0 L440.4,416.0 L440.4,415.0 L440.4,414.0 L440.4,413.0 L440.4,412.0 L440.4,411.0 L440.4,410.0 L440.4,409.0 L440.4,408.0 L440.4,407.0 L440.4,406.0 L440.4,405.0 L440.4,404.0 L440.4,403.0 L440.4,402.0 L440.4,401.0 L440.4,400.0 L440.4,399.0 L440.4,398.0 L440.4,397.0 L440.4,396.0 L440.4,395.0 L440.4,394.0 L440.4,393.0 L440.4,392.0 L440.4,391.0 L440.4,390.0 L440.4,389.0 L440.3,388.0 L440.3,387.0 L440.3,386.0 L440.2,385.0 L440.2,384.0 L440.1,383.0 L440.1,382.0 L440.0,381.0 L440.0,380.0 L439.9,379.0 L439.8,378.0 L439.8,377.0 L439.7,376.0 L439.6,375.0 L439.5,374.0 L439.4,373.0 L439.4,372.0 L439.3,371.0 L439.2,370.0 L439.1,369.0 L439.0,368.0 L438.9,367.0 L438.8,366.0 L438.6,365.0 L438.5,364.1 L438.4,363.1 L438.2,362.1 L438.1,361.1 L438.0,360.1 L437.8,359.1 L437.7,358.1 L437.5,357.1 L437.4,356.1 L437.2,355.1 L437.1,354.1 L436.9,353.2 L436.8,352.2 L436.6,351.2 L436.5,350.2 L436.3,349.2 L436.1,348.2 L435.9,347.2 L435.7,346.3 L435.5,345.3 L435.3,344.3 L435.0,343.3 L434.8,342.4 L434.5,341.4 L434.3,340.4 L434.0,339.5 L433.7,338.5 L433.4,337.6 L433.1,336.6 L432.7,335.7 L432.4,334.7 L432.0,333.8 L431.7,332.9 L431.3,332.0 L430.9,331.0 L430.4,330.1 L430.0,329.3 L429.5,328.4 L429.1,327.5 L428.6,326.6 L428.1,325.7 L427.6,324.9 L427.0,324.0 L426.5,323.2 L426.0,322.3 L425.4,321.5 L424.8,320.7 L424.2,319.9 L423.6,319.1 L423.0,318.3 L422.4,317.5 L421.7,316.8 L421.1,316.0 L420.4,315.3 L419.7,314.6 L419.0,313.8 L418.3,313.1 L417.5,312.5 L416.8,311.8 L416.0,311.1 L415.3,310.5 L414.5,309.8 L413.7,309.2 L412.9,308.6 L412.1,308.0 L411.2,307.4 L410.4,306.9 L409.5,306.4 L408.6,306.0 L407.7,305.6 L406.8,305.3 L405.9,305.0 L405.0,304.7 L404.0,304.5 L403.1,304.3 L402.1,304.1 L401.1,303.9 L400.1,303.8 L399.1,303.6 L398.1,303.5 L397.1,303.4 L396.1,303.2 L395.1,303.1 L394.1,303.0 L393.1,302.9 L392.1,302.8 L391.1,302.8 L390.1,302.7 L389.1,302.6 L388.1,302.5 L387.1,302.5 L386.1,302.4 L385.1,302.3 L384.1,302.3 L383.1,302.2 L382.1,302.1 L381.1,302.1 L380.1,302.0 L379.1,301.9 L378.1,301.9 L377.1,301.8 L376.1,301.7 L375.1,301.7 L374.1,301.6 L373.1,301.5 L372.1,301.5 L371.1,301.4 L370.1,301.4 L369.1,301.3 L368.1,301.2 L367.1,301.2 L366.1,301.1 L365.1,301.0 L364.1,301.0 L363.1,300.9 L362.1,300.8 L361.1,300.8 L360.1,300.7 L359.1,300.6 L358.1,300.6 L357.1,300.5 L356.1,300.4 L355.1,300.4 L354.1,300.3 L353.1,300.2 L352.1,300.1 L351.2,300.0 L350.2,300.0 L349.2,299.9 L348.2,299.8 L347.2,299.7 L346.2,299.6 L345.2,299.5 L344.2,299.4 L343.2,299.3 L342.2,299.2 L341.2,299.1 L340.2,299.0 L339.2,298.9 L338.2,298.7 L337.2,298.6 L336.2,298.5 L335.2,298.3 L334.2,298.2 L333.3,298.1 L332.3,297.9 L331.3,297.8 L330.3,297.6 L329.3,297.5 L328.3,297.3 L327.3,297.2 L326.3,297.0 L325.3,296.8 L324.3,296.7 L323.3,296.5 L322.3,296.3 L321.4,296.1 L320.4,296.0 L319.4,295.8 L318.4,295.6 L317.4,295.4 L316.5,295.2 L315.5,295.0 L314.5,294.8 L313.5,294.6 L312.6,294.4 L311.6,294.1 L310.6,293.9 L309.7,293.7 L308.7,293.4 L307.7,293.1 L306.8,292.9 L305.8,292.6 L304.9,292.3 L303.9,292.0 L303.0,291.6 L302.0,291.3 L301.1,291.0 L300.2,290.6 L299.2,290.3 L298.3,289.9 L297.3,289.6 L296.4,289.2 L295.5,288.9 L294.5,288.5 L293.6,288.2 L292.6,287.8 L291.7,287.5 L290.8,287.1 L289.8,286.8 L288.9,286.4 L287.9,286.1 L287.0,285.7 L286.1,285.4 L285.1,285.0 L284.2,284.7 L283.3,284.3 L282.3,284.0 L281.4,283.6 L280.5,283.3 L279.5,282.9 L278.6,282.6 L277.6,282.2 L276.7,281.9 L275.8,281.6 L274.8,281.2 L273.9,280.9 L272.9,280.5 L272.0,280.2 L271.1,279.8 L270.1,279.5 L269.2,279.1 L268.3,278.8 L267.3,278.4 L266.4,278.0 L265.5,277.7 L264.5,277.3 L263.6,276.9 L262.7,276.5 L261.8,276.1 L260.9,275.7 L259.9,275.3 L259.0,274.9 L258.1,274.5 L257.2,274.1 L256.3,273.6 L255.4,273.2 L254.5,272.8 L253.6,272.3 L252.7,271.9 L251.8,271.4 L250.9,271.0 L250.1,270.5 L249.2,270.0 L248.3,269.5 L247.5,269.0 L246.6,268.4 L245.8,267.9 L244.9,267.4 L244.1,266.8 L243.3,266.3 L242.4,265.7 L241.6,265.2 L240.8,264.6 L239.9,264.1 L239.1,263.5 L238.3,262.9 L237.4,262.4 L236.6,261.8 L235.8,261.3 L235.0,260.7 L234.1,260.1 L233.3,259.6 L232.5,259.0 L231.7,258.4 L230.8,257.8 L230.0,257.3 L229.2,256.7 L228.4,256.1 L227.6,255.5 L226.8,254.9 L226.0,254.3 L225.2,253.7 L224.4,253.1 L223.6,252.5 L222.8,251.9 L222.0,251.2 L221.3,250.6 L220.5,250.0 L219.7,249.3 L219.0,248.7 L218.2,248.1 L217.4,247.4 L216.7,246.8 L215.9,246.1 L215.2,245.4 L214.4,244.8 L213.7,244.1 L213.0,243.4 L212.2,242.7 L211.5,242.1 L210.8,241.4 L210.0,240.7 L209.3,240.0 L208.6,239.3 L207.9,238.6 L207.2,237.9 L206.4,237.2 L205.7,236.5 L205.0,235.8 L204.3,235.1 L203.6,234.3 L202.9,233.6 L202.3,232.9 L201.6,232.2 L200.9,231.4 L200.2,230.7 L199.6,229.9 L198.9,229.2 L198.3,228.4 L197.6,227.7 L197.0,226.9 L196.3,226.1 L195.6,225.4 L195.0,224.6 L194.3,223.9 L193.6,223.2 L193.0,222.4 L192.3,221.7 L191.6,221.0 L190.9,220.3 L190.1,219.6 L189.4,218.9 L188.7,218.2 L188.0,217.5 L187.2,216.8 L186.5,216.2 L185.8,215.5 L185.0,214.8 L184.3,214.1 L183.6,213.5 L182.8,212.8 L182.1,212.1 L181.3,211.4 L180.6,210.8 L179.9,210.1 L179.1,209.4 L178.4,208.7 L177.6,208.0 L176.9,207.4 L176.2,206.7 L175.4,206.0 L174.7,205.3 L174.0,204.6 L173.2,204.0 L172.5,203.3 L171.8,202.6 L171.0,201.9 L170.3,201.2 L169.6,200.6 L168.8,199.9 L168.1,199.2 L167.4,198.5 L166.6,197.8 L165.9,197.2 L165.2,196.5 L164.4,195.8 L163.7,195.1 L163.0,194.4 L162.3,193.7 L161.5,193.0 L160.8,192.4 L160.1,191.7 L159.4,191.0 L158.6,190.3 L157.9,189.6 L157.2,188.9 L156.5,188.2 L155.7,187.5 L155.0,186.8 L154.3,186.1 L153.6,185.4 L152.8,184.7 L152.1,184.0 L151.4,183.3 L150.7,182.6 L149.9,181.9 L149.2,181.2 L148.5,180.5 L147.8,179.8 L147.1,179.1 L146.4,178.4 L145.8,177.6 L145.1,176.9 L144.4,176.2 L143.8,175.4 L143.1,174.7 L142.5,173.9 L141.8,173.1 L141.2,172.4 L140.6,171.6 L140.0,170.8 L139.4,170.0 L138.8,169.2 L138.3,168.4 L137.7,167.6 L137.2,166.7 L136.6,165.9 L136.1,165.1 L135.5,164.2 L135.0,163.4 L134.4,162.5 L133.9,161.7 L133.4,160.8 L132.8,160.0 L132.3,159.1 L131.8,158.3 L131.2,157.4 L130.7,156.6 L130.2,155.7 L129.6,154.9 L129.1,154.0 L128.5,153.2 L128.0,152.4 L127.4,151.5 L126.9,150.7 L126.3,149.8 L125.7,149.0 L125.2,148.2 L124.6,147.3 L124.1,146.5 L123.5,145.7 L123.0,144.8 L122.4,144.0 L121.9,143.2 L121.4,142.3 L120.8,141.5 L120.3,140.6 L119.8,139.8 L119.3,138.9 L118.8,138.0 L118.3,137.2 L117.8,136.3 L117.3,135.4 L116.9,134.6 L116.4,133.7 L115.9,132.8 L115.5,131.9 L115.0,131.0 L114.6,130.1 L114.2,129.2 L113.7,128.3 L113.3,127.4 L112.9,126.5 L112.5,125.6 L112.1,124.6 L111.6,123.7 L111.2,122.8 L110.8,121.9 L110.4,121.0 L110.0,120.1 L109.6,119.1 L109.2,118.2 L108.8,117.3 L108.4,116.4 L108.0,115.5 L107.6,114.5 L107.2,113.6 L106.8,112.7 L106.5,111.8 L106.1,110.8 L105.8,109.9 L105.4,108.9 L105.1,108.0 L104.9,107.1 L104.6,106.1 L104.3,105.2 L104.1,104.2 L103.9,103.2 L103.6,102.3 L103.4,101.3 L103.2,100.3 L103.0,99.4 L102.8,98.4 L102.6,97.4 L102.4,96.5 L102.2,95.5 L102.0,94.5 L101.8,93.5 L101.6,92.5 L101.4,91.5 L101.2,90.6 L101.0,89.6 L100.9,88.6 L100.7,87.6 L100.5,86.6 L100.4,85.6 L100.2,84.6 L100.0,83.6 L99.9,82.6 L99.7,81.6 L99.6,80.6 L99.4,79.6 L99.3,78.6 L99.2,77.6 L99.0,76.6 L98.9,75.6 L98.8,74.7 L98.6,73.7 L98.5,72.7 L98.4,71.7 L98.3,70.7 L98.2,69.7 L98.0,68.7 L97.9,67.7 L97.8,66.7 L97.7,65.7 L97.6,64.7 L97.5,63.7 L97.4,62.7 L97.4,61.7 L97.3,60.7 L97.2,59.7 L97.1,58.7 L97.0,57.7 L96.9,56.7 L96.8,55.7 L96.8,54.7 L96.7,53.7 L96.6,52.7 L96.5,51.7 L96.4,50.7 L96.4,49.7 L96.3,48.7 L96.2,47.7 L96.1,46.8 L96.1,45.8 L96.0,44.8 L95.9,43.8 L95.8,42.8 L95.8,41.8 L95.7,40.8 L95.6,39.8 L95.6,38.8 L95.5,37.8 L95.4,36.8 L95.4,35.8 L95.3,34.8 L95.3,33.8 L95.2,32.8 L95.1,31.8 L95.1,30.8 L95.0,29.8 L95.0,28.8 L94.9,27.8 L94.9,26.8 L94.8,25.8 L94.8,24.8 L94.8,23.8 L94.7,22.8 L94.7,21.8 L94.7,20.8 L94.6,19.8 L94.6,18.8 L94.6,17.8 L94.6,16.8 L94.6,15.8 L94.5,14.8 L94.5,13.8 L94.5,12.8" stroke="#00f"/>
<path d="M66.5,106.4 L67.5,106.4 L68.5,106.4 L69.5,106.4 L70.5,106.4 L71.5,106.4 L72.5,106.4 L73.5,106.4 L74.5,106.4 L75.5,106.4 L76.5,106.4 L77.5,106.4 L78.5,106.4 L79.5,106.4 L80.5,106.4 L81.5,106.4 L82.5,106.4 L83.5,106.4 L84.5,106.4 L85.5,106.4 L86.5,106.4 L87.5,106.4 L88.5,106.4 L89.5,106.4 L90.5,106.4 L91.5,106.4 L92.5,106.4 L93.5,106.4 L94.5,106.4 L95.5,106.4 L96.5,106.4 L97.5,106.4 L98.5,106.4 L99.5,106.4 L100.5,106.4 L101.5,106.4 L102.5,106.4 L103.5,106.4 L104.5,106.4 L105.5,106.4 L106.5,106.4 L107.5,106.4 L108.5,106.4 L109.5,106.4 L110.5,106.4 L111.5,106.4 L112.5,106.4 L113.5,106.4 L114.5,106.4 L115.5,106.5 L116.5,106.5 L117.5,106.5 L118.5,106.5 L119.5,106.5 L120.5,106.5 L121.5,106.5 L122.5,106.5 L123.5,106.5 L124.5,106.5 L125.5,106.5 L126.5,106.5 L127.5,106.5 L128.5,106.5 L129.5,106.5 L130.5,106.5 L131.5,106.5 L132.5,106.5 L133.5,106.5 L134.5,106.5 L135.5,106.6 L136.5,106.6 L137.5,106.6 L138.5,106.6 L139.5,106.6 L140.5,106.6 L141.5,106.6 L142.5,106.7 L143.5,106.7 L144.5,106.7 L145.5,106.7 L146.5,106.7 L147.5,106.8 L148.5,106.8 L149.5,106.8 L150.5,106.8 L151.5,106.8 L152.5,106.9 L153.5,106.9 L154.5,106.9 L155.5,107.0 L156.5,107.0 L157.5,107.0 L158.5,107.1 L159.5,107.1 L160.5,107.2 L161.5,107.2 L162.5,107.3 L163.5,107.3 L164.5,107.4 L165.5,107.4 L166.5,107.5 L167.5,107.5 L168.5,107.6 L169.5,107.7 L170.5,107.7 L171.5,107.8 L172.5,107.9 L173.5,108.0 L174.5,108.1 L175.5,108.1 L176.5,108.2 L177.5,108.3 L178.5,108.4 L179.5,108.5 L180.4,108.6 L181.4,108.8 L182.4,108.9 L183.4,109.0 L184.4,109.2 L185.4,109.3 L186.4,109.4 L187.4,109.6 L188.4,109.7 L189.4,109.9 L190.3,110.1 L191.3,110.2 L192.3,110.4 L193.3,110.6 L194.3,110.8 L195.3,111.0 L196.2,111.2 L197.2,111.4 L198.2,111.6 L199.2,111.9 L200.1,112.1 L201.1,112.4 L202.1,112.7 L203.0,113.0 L204.0,113.3 L204.9,113.5 L205.9,113.8 L206.8,114.2 L207.8,114.5 L208.7,114.8 L209.7,115.1 L210.6,115.5 L211.6,115.8 L212.5,116.2 L213.4,116.6 L214.3,117.0 L215.2,117.5 L216.0,118.0 L216.9,118.5 L217.7,119.1 L218.5,119.7 L219.3,120.3 L220.0,120.9 L220.8,121.6 L221.5,122.3 L222.2,123.0 L222.9,123.7 L223.6,124.4 L224.2,125.2 L224.8,126.0 L225.4,126.8 L225.9,127.6 L226.4,128.5 L226.8,129.4 L227.2,130.3 L227.6,131.2 L228.0,132.1 L228.3,133.1 L228.6,134.0 L228.9,135.0 L229.2,135.9 L229.5,136.9 L229.8,137.9 L230.0,138.8 L230.2,139.8 L230.5,140.8 L230.7,141.8 L230.9,142.8 L231.1,143.7 L231.2,144.7 L231.4,145.7 L231.6,146.7 L231.8,147.7 L231.9,148.7 L232.1,149.6 L232.2,150.6 L232.4,151.6 L232.5,152.6 L232.7,153.6 L232.8,154.6 L233.0,155.6 L233.1,156.6 L233.2,157.6 L233.4,158.6 L233.5,159.5 L233.6,160.5 L233.7,161.5 L233.9,162.5 L234.0,163.5 L234.1,164.5 L234.2,165.5 L234.3,166.5 L234.5,167.5 L234.6,168.5 L234.7,169.5 L234.8,170.5 L234.9,171.5 L235.1,172.5 L235.2,173.5 L235.3,174.5 L235.4,175.4 L235.5,176.4 L235.7,177.4 L235.8,178.4 L235.9,179.4 L236.0,180.4 L236.1,181.4 L236.3,182.4 L236.4,183.4 L236.5,184.4 L236.6,185.4 L236.7,186.4 L236.8,187.4 L237.0,188.4 L237.1,189.4 L237.2,190.3 L237.3,191.3 L237.4,192.3 L237.5,193.3 L237.6,194.3 L237.7,195.3 L237.8,196.3 L237.9,197.3 L238.0,198.3 L238.1,199.3 L238.2,200.3 L238.3,201.3 L238.4,202.3 L238.5,203.3 L238.6,204.3 L238.6,205.3 L238.7,206.3 L238.8,207.3 L238.9,208.3 L239.0,209.3 L239.0,210.3 L239.1,211.3 L239.2,212.3 L239.3,213.3 L239.4,214.2 L239.5,215.2 L239.5,216.2 L239.6,217.2 L239.7,218.2 L239.8,219.2 L239.9,220.2 L240.0,221.2 L240.1,222.2 L240.2,223.2 L240.3,224.2 L240.4,225.2 L240.5,226.2 L240.6,227.2 L240.7,228.2 L240.9,229.2 L241.0,230.2 L241.1,231.2 L241.2,232.2 L241.4,233.2 L241.5,234.1 L241.6,235.1 L241.8,236.1 L241.9,237.1 L242.1,238.1 L242.3,239.1 L242.4,240.1 L242.6,241.1 L242.8,242.0 L243.0,243.0 L243.2,244.0 L243.4,245.0 L243.6,246.0 L243.9,246.9 L244.1,247.9 L244.3,248.9 L244.6,249.9 L244.8,250.8 L245.1,251.8 L245.3,252.8 L245.6,253.7 L245.9,254.7 L246.2,255.6 L246.5,256.5 L246.8,257.5 L247.2,258.4 L247.5,259.4 L247.9,260.3 L248.3,261.2 L248.7,262.1 L249.1,263.1 L249.5,264.0 L249.9,264.9 L250.3,265.8 L250.7,266.7 L251.2,267.6 L251.6,268.5 L252.0,269.4 L252.5,270.3 L252.9,271.2 L253.3,272.1 L253.8,273.0 L254.2,273.9 L254.7,274.8 L255.1,275.7 L255.6,276.6 L256.0,277.5 L256.5,278.4 L257.0,279.3 L257.5,280.1 L257.9,281.0 L258.4,281.9 L258.9,282.8 L259.4,283.6 L259.9,284.5 L260.4,285.4 L260.9,286.3 L261.4,287.1 L261.9,288.0 L262.4,288.9 L262.9,289.7 L263.4,290.6 L263.9,291.5 L264.4,292.3 L264.9,293.2 L265.4,294.0 L265.9,294.9 L266.4,295.8 L266.9,296.6 L267.5,297.5 L268.0,298.3 L268.5,299.2 L269.0,300.0 L269.6,300.9 L270.1,301.7 L270.7,302.5 L271.2,303.4 L271.8,304.2 L272.4,305.0 L272.9,305.9 L273.5,306.7 L274.1,307.5 L274.6,308.3 L275.2,309.1 L275.8,310.0 L276.4,310.8 L276.9,311.6 L277.5,312.4 L278.1,313.2 L278.7,314.0 L279.3,314.8 L279.9,315.6 L280.5,316.4 L281.1,317.2 L281.8,318.0 L282.4,318.7 L283.0,319.5 L283.6,320.3 L284.3,321.1 L284.9,321.8 L285.6,322.6 L286.2,323.4 L286.8,324.1 L287.5,324.9 L288.1,325.7 L288.8,326.4 L289.5,327.2 L290.1,327.9 L290.8,328.7 L291.4,329.4 L292.1,330.2 L292.8,330.9 L293.4,331.7 L294.1,332.4 L294.8,333.2 L295.5,333.9 L296.1,334.6 L296.8,335.4 L297.5,336.1 L298.2,336.8 L298.8,337.6 L299.5,338.3 L300.2,339.0 L300.9,339.8 L301.6,340.5 L302.3,341.2 L303.0,341.9 L303.7,342.7 L304.4,343.4 L305.1,344.1 L305.8,344.8 L306.5,345.5 L307.2,346.2 L307.9,346.9 L308.6,347.6 L309.3,348.3 L310.1,349.0 L310.8,349.7 L311.5,350.4 L312.2,351.1 L313.0,351.7 L313.7,352.4 L314.5,353.1 L315.2,353.7 L316.0,354.4 L316.7,355.0 L317.5,355.6 L318.3,356.3 L319.1,356.9 L319.9,357.5 L320.6,358.1 L321.4,358.7 L322.2,359.3 L323.0,359.9 L323.8,360.5 L324.7,361.1 L325.5,361.7 L326.3,362.3 L327.1,362.9 L327.9,363.5 L328.7,364.1 L329.5,364.7 L330.3,365.3 L331.1,365.9 L331.9,366.5 L332.8,367.1 L333.6,367.7 L334.4,368.3 L335.1,368.9 L335.9,369.5 L336.7,370.1 L337.5,370.7 L338.3,371.4 L339.0,372.0 L339.8,372.6 L340.6,373.3 L341.3,373.9 L342.0,374.6 L342.8,375.3 L343.5,376.0 L344.2,376.7 L344.9,377.4 L345.6,378.1 L346.3,378.8 L347.0,379.5 L347.7,380.2 L348.4,380.9 L349.1,381.7 L349.8,382.4 L350.5,383.1 L351.2,383.8 L351.9,384.5 L352.7,385.2 L353.4,385.9 L354.1,386.6 L354.8,387.3 L355.5,388.0 L356.2,388.7 L356.9,389.4 L357.7,390.1 L358.4,390.8 L359.1,391.5 L359.8,392.2 L360.5,392.9 L361.2,393.6 L361.9,394.3 L362.7,395.0 L363.4,395.7 L364.1,396.4 L364.8,397.1 L365.5,397.8 L366.2,398.6 L366.9,399.3 L367.6,400.0 L368.4,400.7 L369.1,401.4 L369.8,402.1 L370.5,402.8 L371.2,403.5 L371.9,404.2 L372.7,404.8 L373.4,405.5 L374.1,406.2 L374.9,406.9 L375.6,407.5 L376.4,408.2 L377.1,408.8 L377.9,409.5 L378.6,410.1 L379.4,410.8 L380.2,411.4 L381.0,412.0 L381.7,412.7 L382.5,413.3 L383.3,413.9 L384.1,414.5 L384.9,415.1 L385.7,415.7 L386.5,416.4 L387.3,417.0 L388.1,417.5 L388.9,418.1 L389.7,418.7 L390.5,419.3 L391.4,419.9 L392.2,420.4 L393.0,421.0 L393.9,421.5 L394.7,422.1 L395.5,422.6 L396.4,423.1 L397.2,423.7 L398.1,424.2 L398.9,424.7 L399.8,425.2 L400.7,425.7 L401.5,426.2 L402.4,426.7 L403.3,427.2 L404.1,427.7 L405.0,428.2 L405.9,428.6 L406.8,429.1 L407.7,429.6 L408.6,430.0 L409.5,430.5 L410.4,430.9 L411.3,431.3 L412.2,431.7 L413.1,432.1 L414.0,432.6 L414.9,432.9 L415.9,433.3 L416.8,433.7 L417.7,434.1 L418.6,434.4 L419.6,434.8 L420.5,435.1 L421.4,435.5 L422.4,435.8 L423.3,436.2 L424.3,436.5 L425.2,436.8 L426.2,437.1 L427.1,437.5 L428.1,437.8 L429.0,438.1 L430.0,438.4 L430.9,438.7 L431.9,439.0 L432.8,439.3 L433.8,439.7 L434.7,440.0 L435.7,440.3 L436.6,440.6 L437.6,440.9 L438.6,441.1 L439.5,441.4 L440.5,441.7 L441.4,441.9 L442.4,442.2 L443.4,442.4 L444.4,442.7 L445.3,442.9 L446.3,443.2 L447.3,443.4 L448.2,443.6 L449.2,443.8 L450.2,444.1 L451.2,444.3 L452.2,444.5 L453.1,444.7 L454.1,444.9 L455.1,445.1 L456.1,445.3 L457.1,445.5 L458.1,445.7 L459.0,445.8 L460.0,446.0 L461.0,446.2 L462.0,446.3 L463.0,446.5 L464.0,446.6 L465.0,446.8 L466.0,446.9 L466.9,447.0 L467.9,447.2 L468.9,447.3 L469.9,447.4 L470.9,447.5 L471.9,447.6 L472.9,447.8 L473.9,447.9 L474.9,448.0 L475.9,448.1 L476.9,448.2 L477.9,448.3 L478.9,448.4 L479.9,448.5 L480.9,448.6 L481.9,448.7 L482.9,448.8 L483.8,448.8 L484.8,448.9 L485.8,449.0 L486.8,449.1 L487.8,449.2 L488.8,449.3 L489.8,449.4 L490.8,449.5 L491.8,449.6 L492.8,449.7 L493.8,449.7 L494.8,449.8 L495.8,449.9 L496.8,450.0 L497.8,450.1 L498.8,450.2 L499.8,450.3 L500.8,450.3 L501.8,450.4 L502.8,450.5 L503.8,450.6 L504.8,450.6 L505.8,450.7 L506.8,450.8 L507.8,450.9 L508.8,450.9 L509.8,451.0 L510.8,451.0 L511.8,451.1 L512.8,451.1 L513.8,451.2 L514.8,451.3 L515.8,451.3 L516.8,451.4 L517.8,451.4 L518.8,451.5 L519.8,451.5 L520.8,451.5 L521.8,451.6 L522.8,451.6 L523.8,451.7 L524.8,451.7 L525.8,451.8 L526.7,451.8 L527.7,451.8 L528.7,451.9 L529.7,451.9 L530.7,451.9 L531.7,451.9 L532.7,452.0" stroke="#f00"/>
<path d="M66.5,106.4 L67.5,106.4 L68.5,106.4 L69.5,106.4 L70.5,106.4 L71.5,106.4 L72.5,106.4 L73.5,106.4 L74.5,106.4 L75.5,106.4 L76.5,106.4 L77.5,106.4 L78.5,106.4 L79.5,106.4 L80.5,106.4 L81.5,106.4 L82.5,106.4 L83.5,106.4 L84.5,106.4 L85.5,106.4 L86.5,106.4 L87.5,106.4 L88.5,106.4 L89.5,106.4 L90.5,106.4 L91.5,106.4 L92.5,106.4 L93.5,106.4 L94.5,106.4 L95.5,106.4 L96.5,106.4 L97.5,106.4 L98.5,106.4 L99.5,106.4 L100.5,106.4 L101.5,106.4 L102.5,106.4 L103.5,106.4 L104.5,106.4 L105.5,106.4 L106.5,106.4 L107.5,106.4 L108.5,106.4 L109.5,106.4 L110.5,106.4 L111.5,106.4 L112.5,106.4 L113.5,106.4 L114.5,106.4 L115.5,106.5 L116.5,106.5 L117.5,106.5 L118.5,106.5 L119.5,106.5 L120.5,106.5 L121.5,106.5 L122.5,106.5 L123.5,106.5 L124.5,106.5 L125.5,106.5 L126.5,106.5 L127.5,106.5 L128.5,106.5 L129.5,106.5 L130.5,106.5 L131.5,106.5 L132.5,106.5 L133.5,106.5 L134.5,106.5 L135.5,106.5 L136.5,106.5 L137.5,106.5 L138.5,106.6 L139.5,106.6 L140.5,106.6 L141.5,106.6 L142.5,106.6 L143.5,106.6 L144.5,106.6 L145.5,106.6 L146.5,106.6 L147.5,106.7 L148.5,106.7 L149.5,106.7 L150.5,106.7 L151.5,106.7 L152.5,106.7 L153.5,106.8 L154.5,106.8 L155.5,106.8 L156.5,106.8 L157.5,106.8 L158.5,106.9 L159.5,106.9 L160.5,106.9 L161.5,107.0 L162.5,107.0 L163.5,107.0 L164.5,107.1 L165.5,107.1 L166.5,107.2 L167.5,107.2 L168.5,107.3 L169.5,107.3 L170.5,107.4 L171.5,107.4 L172.5,107.5 L173.5,107.6 L174.5,107.6 L175.5,107.7 L176.5,107.8 L177.5,107.9 L178.5,107.9 L179.5,108.0 L180.5,108.1 L181.5,108.2 L182.5,108.3 L183.5,108.4 L184.5,108.5 L185.5,108.6 L186.4,108.7 L187.4,108.9 L188.4,109.0 L189.4,109.1 L190.4,109.3 L191.4,109.4 L192.4,109.6 L193.4,109.7 L194.4,109.9 L195.4,110.1 L196.3,110.3 L197.3,110.4 L198.3,110.6 L199.3,110.8 L200.3,111.0 L201.2,111.2 L202.2,111.4 L203.2,111.6 L204.2,111.9 L205.1,112.1 L206.1,112.3 L207.1,112.6 L208.0,112.9 L209.0,113.1 L210.0,113.4 L210.9,113.7 L211.9,114.0 L212.8,114.3 L213.8,114.6 L214.7,115.0 L215.7,115.3 L216.6,115.6 L217.6,116.0 L218.5,116.3 L219.4,116.7 L220.4,117.1 L221.3,117.5 L222.2,117.9 L223.1,118.3 L223.9,118.8 L224.8,119.3 L225.6,119.9 L226.4,120.5 L227.2,121.1 L228.0,121.7 L228.7,122.4 L229.5,123.0 L230.2,123.7 L230.9,124.4 L231.6,125.2 L232.2,125.9 L232.8,126.7 L233.4,127.5 L234.0,128.3 L234.5,129.2 L235.0,130.0 L235.4,130.9 L235.8,131.8 L236.2,132.7 L236.6,133.7 L236.9,134.6 L237.3,135.6 L237.5,136.5 L237.8,137.5 L238.1,138.4 L238.3,139.4 L238.6,140.4 L238.8,141.3 L239.0,142.3 L239.3,143.3 L239.5,144.3 L239.7,145.3 L239.9,146.2 L240.1,147.2 L240.3,148.2 L240.5,149.2 L240.7,150.2 L240.9,151.1 L241.1,152.1 L241.4,153.1 L241.6,154.1 L241.8,155.0 L242.0,156.0 L242.2,157.0 L242.4,158.0 L242.6,159.0 L242.8,160.0 L243.0,160.9 L243.2,161.9 L243.4,162.9 L243.6,163.9 L243.7,164.9 L243.9,165.9 L244.1,166.8 L244.2,167.8 L244.4,168.8 L244.5,169.8 L244.7,170.8 L244.8,171.8 L245.0,172.8 L245.1,173.8 L245.2,174.7 L245.3,175.7 L245.4,176.7 L245.5,177.7 L245.6,178.7 L245.7,179.7 L245.8,180.7 L245.9,181.7 L246.0,182.7 L246.1,183.7 L246.2,184.7 L246.3,185.7 L246.3,186.7 L246.4,187.7 L246.5,188.7 L246.6,189.7 L246.6,190.7 L246.7,191.7 L246.8,192.7 L246.9,193.7 L246.9,194.7 L247.0,195.7 L247.1,196.7 L247.1,197.7 L247.2,198.7 L247.3,199.7 L247.3,200.7 L247.4,201.7 L247.5,202.7 L247.5,203.7 L247.6,204.7 L247.6,205.7 L247.7,206.7 L247.7,207.7 L247.8,208.7 L247.9,209.7 L247.9,210.7 L248.0,211.7 L248.0,212.7 L248.1,213.7 L248.2,214.6 L248.2,215.6 L248.3,216.6 L248.4,217.6 L248.5,218.6 L248.6,219.6 L248.7,220.6 L248.8,221.6 L248.9,222.6 L249.0,223.6 L249.1,224.6 L249.3,225.6 L249.4,226.6 L249.6,227.6 L249.7,228.6 L249.9,229.6 L250.0,230.5 L250.2,231.5 L250.3,232.5 L250.5,233.5 L250.7,234.5 L250.9,235.5 L251.0,236.5 L251.2,237.4 L251.4,238.4 L251.6,239.4 L251.8,240.4 L252.0,241.4 L252.2,242.3 L252.5,243.3 L252.7,244.3 L252.9,245.3 L253.2,246.2 L253.4,247.2 L253.7,248.2 L254.0,249.1 L254.2,250.1 L254.5,251.1 L254.8,252.0 L255.1,253.0 L255.4,253.9 L255.7,254.9 L256.0,255.8 L256.3,256.8 L256.6,257.7 L256.9,258.7 L257.3,259.6 L257.6,260.5 L258.0,261.5 L258.4,262.4 L258.7,263.3 L259.1,264.2 L259.5,265.2 L259.9,266.1 L260.3,267.0 L260.7,267.9 L261.1,268.9 L261.5,269.8 L261.9,270.7 L262.2,271.6 L262.6,272.6 L263.0,273.5 L263.4,274.4 L263.8,275.3 L264.2,276.2 L264.6,277.1 L265.0,278.1 L265.4,279.0 L265.8,279.9 L266.3,280.8 L266.7,281.7 L267.1,282.6 L267.5,283.5 L267.9,284.4 L268.3,285.3 L268.8,286.3 L269.2,287.2 L269.6,288.1 L270.0,289.0 L270.5,289.9 L270.9,290.8 L271.3,291.7 L271.8,292.6 L272.2,293.5 L272.6,294.4 L273.1,295.3 L273.5,296.2 L274.0,297.1 L274.4,298.0 L274.9,298.8 L275.4,299.7 L275.9,300.6 L276.4,301.4 L276.9,302.3 L277.5,303.1 L278.0,303.9 L278.6,304.8 L279.1,305.6 L279.7,306.4 L280.3,307.3 L280.9,308.1 L281.4,308.9 L282.0,309.7 L282.6,310.5 L283.2,311.4 L283.7,312.2 L284.3,313.0 L284.9,313.8 L285.5,314.6 L286.1,315.4 L286.7,316.2 L287.3,317.0 L287.9,317.8 L288.5,318.6 L289.1,319.4 L289.7,320.2 L290.4,320.9 L291.0,321.7 L291.6,322.5 L292.2,323.3 L292.9,324.1 L293.5,324.8 L294.2,325.6 L294.8,326.4 L295.4,327.1 L296.1,327.9 L296.7,328.7 L297.4,329.4 L298.0,330.2 L298.7,331.0 L299.3,331.7 L300.0,332.5 L300.6,333.2 L301.3,334.0 L301.9,334.8 L302.6,335.5 L303.2,336.3 L303.9,337.0 L304.5,337.8 L305.2,338.5 L305.9,339.3 L306.5,340.0 L307.2,340.8 L307.8,341.6 L308.5,342.3 L309.2,343.1 L309.8,343.8 L310.5,344.5 L311.2,345.3 L311.9,346.0 L312.5,346.8 L313.2,347.5 L313.9,348.2 L314.6,348.9 L315.3,349.7 L316.0,350.4 L316.7,351.1 L317.4,351.8 L318.1,352.5 L318.8,353.2 L319.6,353.8 L320.3,354.5 L321.0,355.2 L321.8,355.9 L322.5,356.5 L323.3,357.2 L324.0,357.8 L324.8,358.5 L325.6,359.1 L326.3,359.8 L327.1,360.4 L327.9,361.0 L328.7,361.7 L329.4,362.3 L330.2,362.9 L331.0,363.6 L331.8,364.2 L332.5,364.8 L333.3,365.5 L334.1,366.1 L334.9,366.7 L335.6,367.4 L336.4,368.0 L337.2,368.7 L337.9,369.3 L338.7,370.0 L339.4,370.7 L340.2,371.3 L340.9,372.0 L341.6,372.7 L342.3,373.4 L343.0,374.1 L343.8,374.8 L344.5,375.5 L345.2,376.2 L345.8,376.9 L346.5,377.7 L347.2,378.4 L347.9,379.1 L348.6,379.8 L349.3,380.6 L350.0,381.3 L350.7,382.0 L351.3,382.8 L352.0,383.5 L352.7,384.2 L353.4,384.9 L354.1,385.7 L354.8,386.4 L355.5,387.1 L356.2,387.8 L356.9,388.6 L357.6,389.3 L358.3,390.0 L359.0,390.7 L359.6,391.4 L360.4,392.1 L361.1,392.9 L361.8,393.6 L362.5,394.3 L363.2,395.0 L363.9,395.7 L364.6,396.4 L365.3,397.1 L366.0,397.8 L366.7,398.5 L367.4,399.2 L368.1,399.9 L368.9,400.6 L369.6,401.3 L370.3,402.0 L371.0,402.7 L371.7,403.4 L372.5,404.1 L373.2,404.8 L374.0,405.5 L374.7,406.1 L375.4,406.8 L376.2,407.4 L376.9,408.1 L377.7,408.7 L378.5,409.4 L379.2,410.0 L380.0,410.7 L380.8,411.3 L381.6,411.9 L382.3,412.5 L383.1,413.2 L383.9,413.8 L384.7,414.4 L385.5,415.0 L386.3,415.6 L387.1,416.2 L387.9,416.8 L388.7,417.4 L389.6,418.0 L390.4,418.5 L391.2,419.1 L392.0,419.7 L392.9,420.2 L393.7,420.8 L394.5,421.3 L395.4,421.8 L396.2,422.4 L397.1,422.9 L397.9,423.4 L398.8,423.9 L399.7,424.4 L400.5,424.9 L401.4,425.4 L402.3,425.9 L403.2,426.4 L404.0,426.8 L404.9,427.3 L405.8,427.8 L406.7,428.2 L407.6,428.7 L408.5,429.1 L409.4,429.5 L410.3,430.0 L411.2,430.4 L412.2,430.8 L413.1,431.2 L414.0,431.5 L414.9,431.9 L415.8,432.3 L416.8,432.6 L417.7,433.0 L418.6,433.3 L419.6,433.7 L420.5,434.0 L421.5,434.3 L422.4,434.7 L423.4,435.0 L424.3,435.3 L425.3,435.6 L426.2,435.9 L427.2,436.2 L428.2,436.5 L429.1,436.8 L430.1,437.0 L431.0,437.3 L432.0,437.6 L433.0,437.9 L433.9,438.1 L434.9,438.4 L435.9,438.6 L436.8,438.9 L437.8,439.1 L438.8,439.3 L439.8,439.5 L440.7,439.7 L441.7,439.9 L442.7,440.1 L443.7,440.2 L444.7,440.4 L445.7,440.6 L446.7,440.7 L447.6,440.9 L448.6,441.0 L449.6,441.2 L450.6,441.3 L451.6,441.4 L452.6,441.6 L453.6,441.7 L454.6,441.8 L455.6,441.9 L456.6,442.1 L457.6,442.2 L458.6,442.3 L459.6,442.4 L460.6,442.5 L461.6,442.5 L462.6,442.6 L463.6,442.7 L464.6,442.7 L465.6,442.8 L466.6,442.9 L467.6,442.9 L468.5,443.0 L469.5,443.0 L470.5,443.0 L471.5,443.1 L472.5,443.1 L473.5,443.2 L474.5,443.2 L475.5,443.2 L476.5,443.2 L477.5,443.3 L478.5,443.3 L479.5,443.3 L480.5,443.4 L481.5,443.4 L482.5,443.4 L483.5,443.5 L484.5,443.5 L485.5,443.5 L486.5,443.6 L487.5,443.6 L488.5,443.6 L489.5,443.7 L490.5,443.7 L491.5,443.8 L492.5,443.9 L493.5,443.9 L494.5,444.0 L495.5,444.0 L496.5,444.1 L497.5,444.2 L498.5,444.2 L499.5,444.3 L500.5,444.4 L501.5,444.5 L502.5,444.5 L503.5,444.6 L504.5,444.7 L505.5,444.7 L506.5,444.8 L507.5,444.9 L508.5,444.9 L509.5,445.0 L510.5,445.0 L511.5,445.1 L512.5,445.1 L513.5,445.2 L514.5,445.2 L515.5,445.2 L516.5,445.3 L517.5,445.3 L518.5,445.4 L519.5,445.4 L520.5,445.4 L521.5,445.5 L522.5,445.5 L523.5,445.5 L524.5,445.6 L525.5,445.6 L526.5,445.6 L527.5,445.7 L528.5,445.7 L529.5,445.7 L530.5,445.7 L531.5,445.8 L532.5,445.8 L533.5,445.8" stroke="#f00"/>
<path d="M66.5,106.4 L67.5,106.4 L68.5,106.4 L69.5,106.4 L70.5,106.4 L71.5,106.4 L72.5,106.4 L73.5,106.4 L74.5,106.4 L75.5,106.4 L76.5,106.4 L77.5,106.4 L78.5,106.4 L79.5,106.4 L80.5,106.4 L81.5,106.4 L82.5,106.4 L83.5,106.4 L84.5,106.4 L85.5,106.4 L86.5,106.4 L87.5,106.4 L88.5,106.4 L89.5,106.4 L90.5,106.4 L91.5,106.4 L92.5,106.4 L93.5,106.4 L94.5,106.4 L95.5,106.4 L96.5,106.4 L97.5,106.4 L98.5,106.4 L99.5,106.4 L100.5,106.4 L101.5,106.4 L102.5,106.4 L103.5,106.4 L104.5,106.4 L105.5,106.4 L106.5,106.4 L107.5,106.4 L108.5,106.4 L109.5,106.4 L110.5,106.4 L111.5,106.4 L112.5,106.4 L113.5,106.4 L114.5,106.4 L115.5,106.5 L116.5,106.5 L117.5,106.5 L118.5,106.5 L119.5,106.5 L120.5,106.5 L121.5,106.5 L122.5,106.5 L123.5,106.5 L124.5,106.5 L125.5,106.5 L126.5,106.5 L127.5,106.5 L128.5,106.5 L129.5,106.5 L130.5,106.5 L131.5,106.5 L132.5,106.5 L133.5,106.5 L134.5,106.5 L135.5,106.5 L136.5,106.5 L137.5,106.5 L138.5,106.6 L139.5,106.6 L140.5,106.6 L141.5,106.6 L142.5,106.6 L143.5,106.6 L144.5,106.6 L145.5,106.6 L146.5,106.6 L147.5,106.6 L148.5,106.6 L149.5,106.6 L150.5,106.6 L151.5,106.7 L152.5,106.7 L153.5,106.7 L154.5,106.7 L155.5,106.7 L156.5,106.7 L157.5,106.8 L158.5,106.8 L159.5,106.8 L160.5,106.8 L161.5,106.8 L162.5,106.9 L163.5,106.9 L164.5,106.9 L165.5,106.9 L166.5,107.0 L167.5,107.0 L168.5,107.0 L169.5,107.1 L170.5,107.1 L171.5,107.2 L172.5,107.2 L173.5,107.3 L174.5,107.3 L175.5,107.4 L176.5,107.5 L177.5,107.5 L178.5,107.6 L179.5,107.7 L180.5,107.8 L181.5,107.9 L182.5,108.0 L183.5,108.1 L184.5,108.1 L185.5,108.2 L186.5,108.4 L187.5,108.5 L188.5,108.6 L189.5,108.7 L190.4,108.8 L191.4,108.9 L192.4,109.1 L193.4,109.2 L194.4,109.3 L195.4,109.5 L196.4,109.6 L197.4,109.8 L198.4,110.0 L199.3,110.1 L200.3,110.3 L201.3,110.5 L202.3,110.7 L203.3,110.9 L204.3,111.1 L205.2,111.3 L206.2,111.5 L207.2,111.7 L208.2,111.9 L209.1,112.2 L210.1,112.4 L211.1,112.6 L212.1,112.9 L213.0,113.1 L214.0,113.4 L214.9,113.7 L215.9,114.0 L216.8,114.3 L217.8,114.6 L218.7,114.9 L219.7,115.2 L220.6,115.6 L221.6,115.9 L222.5,116.2 L223.5,116.6 L224.4,117.0 L225.3,117.3 L226.3,117.7 L227.2,118.1 L228.1,118.5 L229.0,118.9 L229.9,119.4 L230.7,119.9 L231.6,120.4 L232.4,121.0 L233.2,121.5 L234.0,122.1 L234.8,122.8 L235.5,123.4 L236.2,124.1 L237.0,124.8 L237.7,125.5 L238.3,126.3 L239.0,127.0 L239.6,127.8 L240.2,128.6 L240.8,129.4 L241.3,130.2 L241.8,131.1 L242.3,132.0 L242.7,132.9 L243.1,133.8 L243.5,134.7 L243.8,135.6 L244.2,136.6 L244.5,137.5 L244.7,138.5 L245.0,139.5 L245.3,140.4 L245.5,141.4 L245.7,142.4 L246.0,143.3 L246.2,144.3 L246.4,145.3 L246.6,146.3 L246.8,147.3 L247.1,148.2 L247.3,149.2 L247.5,150.2 L247.8,151.1 L248.1,152.1 L248.3,153.1 L248.6,154.0 L248.9,155.0 L249.2,156.0 L249.5,156.9 L249.8,157.9 L250.1,158.8 L250.4,159.8 L250.7,160.8 L250.9,161.7 L251.2,162.7 L251.5,163.6 L251.8,164.6 L252.1,165.6 L252.3,166.5 L252.6,167.5 L252.9,168.5 L253.1,169.4 L253.3,170.4 L253.5,171.4 L253.7,172.3 L253.9,173.3 L254.1,174.3 L254.3,175.3 L254.5,176.3 L254.6,177.2 L254.8,178.2 L254.9,179.2 L255.0,180.2 L255.2,181.2 L255.3,182.2 L255.4,183.2 L255.6,184.2 L255.7,185.2 L255.8,186.1 L255.9,187.1 L256.0,188.1 L256.1,189.1 L256.2,190.1 L256.4,191.1 L256.5,192.1 L256.6,193.1 L256.7,194.1 L256.7,195.1 L256.8,196.1 L256.9,197.1 L257.0,198.1 L257.1,199.1 L257.2,200.1 L257.3,201.1 L257.4,202.1 L257.4,203.1 L257.5,204.1 L257.6,205.1 L257.6,206.1 L257.7,207.1 L257.8,208.1 L257.8,209.1 L257.9,210.1 L258.0,211.1 L258.0,212.1 L258.1,213.1 L258.2,214.1 L258.3,215.1 L258.4,216.1 L258.4,217.1 L258.5,218.1 L258.6,219.1 L258.7,220.1 L258.8,221.0 L259.0,222.0 L259.1,223.0 L259.2,224.0 L259.3,225.0 L259.5,226.0 L259.6,227.0 L259.7,228.0 L259.9,229.0 L260.0,230.0 L260.2,231.0 L260.3,232.0 L260.5,232.9 L260.6,233.9 L260.8,234.9 L260.9,235.9 L261.1,236.9 L261.3,237.9 L261.4,238.9 L261.6,239.9 L261.8,240.8 L261.9,241.8 L262.1,242.8 L262.3,243.8 L262.5,244.8 L262.7,245.8 L262.8,246.7 L263.0,247.7 L263.2,248.7 L263.4,249.7 L263.7,250.7 L263.9,251.6 L264.1,252.6 L264.3,253.6 L264.5,254.6 L264.8,255.5 L265.0,256.5 L265.3,257.5 L265.5,258.4 L265.8,259.4 L266.1,260.4 L266.3,261.3 L266.6,262.3 L266.9,263.2 L267.2,264.2 L267.5,265.2 L267.8,266.1 L268.1,267.1 L268.4,268.0 L268.7,269.0 L269.1,269.9 L269.4,270.9 L269.7,271.8 L270.0,272.8 L270.4,273.7 L270.7,274.6 L271.0,275.6 L271.4,276.5 L271.7,277.5 L272.1,278.4 L272.4,279.3 L272.8,280.3 L273.2,281.2 L273.5,282.1 L273.9,283.1 L274.3,284.0 L274.7,284.9 L275.1,285.8 L275.5,286.7 L275.9,287.7 L276.2,288.6 L276.7,289.5 L277.1,290.4 L277.5,291.3 L277.9,292.2 L278.3,293.1 L278.8,294.0 L279.2,294.9 L279.6,295.8 L280.1,296.7 L280.6,297.6 L281.0,298.5 L281.5,299.4 L282.0,300.2 L282.5,301.1 L283.0,302.0 L283.5,302.9 L284.0,303.7 L284.5,304.6 L285.0,305.4 L285.6,306.3 L286.1,307.1 L286.7,307.9 L287.2,308.8 L287.8,309.6 L288.4,310.4 L289.0,311.2 L289.6,312.0 L290.2,312.8 L290.8,313.6 L291.4,314.3 L292.1,315.1 L292.7,315.9 L293.3,316.7 L293.9,317.5 L294.6,318.2 L295.2,319.0 L295.8,319.8 L296.4,320.6 L297.0,321.4 L297.7,322.2 L298.3,323.0 L298.9,323.7 L299.5,324.5 L300.2,325.3 L300.8,326.1 L301.4,326.9 L302.0,327.7 L302.6,328.4 L303.3,329.2 L303.9,330.0 L304.5,330.8 L305.1,331.6 L305.8,332.3 L306.4,333.1 L307.0,333.9 L307.6,334.7 L308.3,335.5 L308.9,336.2 L309.5,337.0 L310.2,337.8 L310.8,338.6 L311.4,339.4 L312.0,340.1 L312.7,340.9 L313.3,341.7 L313.9,342.5 L314.6,343.3 L315.2,344.0 L315.8,344.8 L316.5,345.6 L317.1,346.4 L317.7,347.1 L318.4,347.9 L319.0,348.6 L319.7,349.4 L320.3,350.1 L321.0,350.9 L321.7,351.6 L322.3,352.4 L323.0,353.1 L323.7,353.8 L324.4,354.5 L325.1,355.3 L325.8,356.0 L326.5,356.7 L327.2,357.4 L327.9,358.1 L328.7,358.8 L329.4,359.5 L330.1,360.2 L330.8,360.8 L331.6,361.5 L332.3,362.2 L333.0,362.9 L333.8,363.6 L334.5,364.3 L335.2,364.9 L336.0,365.6 L336.7,366.3 L337.4,367.0 L338.1,367.7 L338.8,368.4 L339.6,369.1 L340.3,369.8 L341.0,370.5 L341.7,371.2 L342.4,371.9 L343.1,372.7 L343.8,373.4 L344.5,374.1 L345.1,374.8 L345.8,375.6 L346.5,376.3 L347.2,377.0 L347.9,377.8 L348.5,378.5 L349.2,379.2 L349.9,380.0 L350.6,380.7 L351.2,381.5 L351.9,382.2 L352.6,383.0 L353.2,383.7 L353.9,384.5 L354.5,385.2 L355.2,386.0 L355.9,386.7 L356.5,387.5 L357.2,388.2 L357.9,389.0 L358.5,389.7 L359.2,390.4 L359.9,391.2 L360.6,391.9 L361.3,392.6 L362.0,393.3 L362.7,394.0 L363.4,394.8 L364.1,395.5 L364.8,396.2 L365.5,396.9 L366.2,397.6 L366.9,398.3 L367.6,399.0 L368.3,399.7 L369.0,400.4 L369.8,401.1 L370.5,401.8 L371.2,402.5 L372.0,403.2 L372.7,403.9 L373.4,404.5 L374.2,405.2 L374.9,405.9 L375.7,406.5 L376.4,407.2 L377.2,407.8 L378.0,408.5 L378.7,409.1 L379.5,409.7 L380.3,410.4 L381.0,411.0 L381.8,411.6 L382.6,412.2 L383.4,412.8 L384.2,413.4 L385.0,414.0 L385.8,414.6 L386.6,415.2 L387.4,415.8 L388.3,416.4 L389.1,417.0 L389.9,417.6 L390.7,418.1 L391.6,418.7 L392.4,419.2 L393.2,419.8 L394.1,420.3 L394.9,420.9 L395.8,421.4 L396.6,421.9 L397.5,422.4 L398.3,422.9 L399.2,423.4 L400.1,423.9 L400.9,424.4 L401.8,424.9 L402.7,425.4 L403.6,425.8 L404.5,426.3 L405.4,426.8 L406.3,427.2 L407.2,427.7 L408.1,428.1 L409.0,428.5 L409.9,428.9 L410.8,429.3 L411.7,429.7 L412.6,430.1 L413.6,430.5 L414.5,430.8 L415.4,431.2 L416.4,431.5 L417.3,431.9 L418.2,432.2 L419.2,432.5 L420.1,432.8 L421.1,433.2 L422.0,433.5 L423.0,433.8 L424.0,434.0 L424.9,434.3 L425.9,434.6 L426.8,434.9 L427.8,435.1 L428.8,435.4 L429.8,435.6 L430.7,435.9 L431.7,436.1 L432.7,436.4 L433.6,436.6 L434.6,436.8 L435.6,437.0 L436.6,437.2 L437.6,437.4 L438.5,437.6 L439.5,437.8 L440.5,438.0 L441.5,438.1 L442.5,438.3 L443.5,438.4 L444.5,438.6 L445.4,438.8 L446.4,438.9 L447.4,439.1 L448.4,439.2 L449.4,439.3 L450.4,439.5 L451.4,439.6 L452.4,439.7 L453.4,439.9 L454.4,440.0 L455.4,440.1 L456.4,440.2 L457.4,440.3 L458.4,440.4 L459.4,440.5 L460.3,440.6 L461.3,440.7 L462.3,440.8 L463.3,440.9 L464.3,440.9 L465.3,441.0 L466.3,441.1 L467.3,441.1 L468.3,441.1 L469.3,441.2 L470.3,441.2 L471.3,441.3 L472.3,441.3 L473.3,441.3 L474.3,441.4 L475.3,441.4 L476.3,441.4 L477.3,441.5 L478.3,441.5 L479.3,441.5 L480.3,441.6 L481.3,441.6 L482.3,441.6 L483.3,441.6 L484.3,441.7 L485.3,441.7 L486.3,441.8 L487.3,441.8 L488.3,441.8 L489.3,441.9 L490.3,441.9 L491.3,442.0 L492.3,442.0 L493.3,442.1 L494.3,442.2 L495.3,442.2 L496.3,442.3 L497.3,442.4 L498.3,442.5 L499.3,442.5 L500.3,442.6 L501.3,442.7 L502.3,442.8 L503.3,442.8 L504.3,442.9 L505.3,443.0 L506.3,443.0 L507.3,443.1 L508.3,443.2 L509.3,443.2 L510.3,443.3 L511.3,443.4 L512.3,443.4 L513.3,443.5 L514.3,443.5 L515.3,443.6 L516.3,443.6 L517.3,443.7 L518.3,443.7 L519.3,443.8 L520.3,443.8 L521.3,443.9 L522.3,443.9 L523.3,444.0 L524.3,444.0 L525.3,444.1 L526.3,444.1 L527.3,444.2 L528.3,444.2 L529.3,444.2 L530.3,444.3 L531.3,444.3 L532.3,444.4 L533.3,444.4" stroke="#f00"/>
<path d="M66.5,106.4 L67.5,106.4 L68.5,106.4 L69.5,106.4 L70.5,106.4 L71.5,106.4 L72.5,106.4 L73.5,106.4 L74.5,106.4 L75.5,106.4 L76.5,106.4 L77.5,106.4 L78.5,106.4 L79.5,106.4 L80.5,106.4 L81.5,106.4 L82.5,106.4 L83.5,106.4 L84.5,106.4 L85.5,106.4 L86.5,106.4 L87.5,106.4 L88.5,106.4 L89.5,106.4 L90.5,106.4 L91.5,106.4 L92.5,106.4 L93.5,106.4 L94.5,106.4 L95.5,106.4 L96.5,106.4 L97.5,106.4 L98.5,106.4 L99.5,106.4 L100.5,106.4 L101.5,106.4 L102.5,106.4 L103.5,106.4 L104.5,106.4 L105.5,106.4 L106.5,106.4 L107.5,106.4 L108.5,106.4 L109.5,106.4 L110.5,106.4 L111.5,106.4 L112.5,106.4 L113.5,106.4 L114.5,106.4 L115.5,106.5 L116.5,106.5 L117.5,106.5 L118.5,106.5 L119.5,106.5 L120.5,106.5 L121.5,106.5 L122.5,106.5 L123.5,106.5 L124.5,106.5 L125.5,106.5 L126.5,106.5 L127.5,106.5 L128.5,106.5 L129.5,106.5 L130.5,106.5 L131.5,106.5 L132.5,106.5 L133.5,106.5 L134.5,106.5 L135.5,106.5 L136.5,106.5 L137.5,106.5 L138.5,106.5 L139.5,106.6 L140.5,106.6 L141.5,106.6 L142.5,106.6 L143.5,106.6 L144.5,106.6 L145.5,106.6 L146.5,106.6 L147.5,106.6 L148.5,106.6 L149.5,106.6 L150.5,106.6 L151.5,106.6 L152.5,106.6 L153.5,106.6 L154.5,106.7 L155.5,106.7 L156.5,106.7 L157.5,106.7 L158.5,106.7 L159.5,106.7 L160.5,106.7 L161.5,106.7 L162.5,106.8 L163.5,106.8 L164.5,106.8 L165.5,106.8 L166.5,106.8 L167.5,106.9 L168.5,106.9 L169.5,106.9 L170.5,107.0 L171.5,107.0 L172.5,107.0 L173.5,107.1 L174.5,107.1 L175.5,107.1 L176.5,107.2 L177.5,107.2 L178.5,107.3 L179.5,107.3 L180.5,107.4 L181.5,107.5 L182.5,107.5 L183.5,107.6 L184.5,107.7 L185.5,107.8 L186.5,107.8 L187.5,107.9 L188.5,108.0 L189.5,108.1 L190.5,108.2 L191.5,108.4 L192.5,108.5 L193.5,108.6 L194.5,108.7 L195.5,108.8 L196.4,109.0 L197.4,109.1 L198.4,109.2 L199.4,109.4 L200.4,109.5 L201.4,109.7 L202.4,109.8 L203.4,110.0 L204.4,110.1 L205.3,110.3 L206.3,110.5 L207.3,110.7 L208.3,110.9 L209.3,111.1 L210.3,111.3 L211.2,111.5 L212.2,111.7 L213.2,111.9 L214.2,112.1 L215.1,112.3 L216.1,112.6 L217.1,112.8 L218.1,113.0 L219.0,113.3 L220.0,113.5 L221.0,113.8 L221.9,114.0 L222.9,114.3 L223.9,114.6 L224.8,114.9 L225.8,115.2 L226.7,115.5 L227.7,115.8 L228.6,116.2 L229.5,116.5 L230.5,116.9 L231.4,117.2 L232.3,117.6 L233.3,118.0 L234.2,118.4 L235.1,118.8 L236.0,119.2 L237.0,119.6 L237.9,120.0 L238.8,120.4 L239.7,120.9 L240.5,121.4 L241.4,121.9 L242.2,122.4 L243.0,123.0 L243.8,123.6 L244.6,124.2 L245.3,124.8 L246.1,125.5 L246.8,126.2 L247.5,126.9 L248.2,127.7 L248.8,128.4 L249.5,129.2 L250.1,130.0 L250.7,130.7 L251.3,131.5 L251.9,132.4 L252.5,133.2 L253.0,134.0 L253.5,134.9 L253.9,135.8 L254.3,136.7 L254.7,137.6 L255.1,138.5 L255.5,139.5 L255.8,140.4 L256.1,141.3 L256.4,142.3 L256.7,143.3 L256.9,144.2 L257.2,145.2 L257.4,146.2 L257.6,147.1 L257.8,148.1 L258.1,149.1 L258.3,150.1 L258.5,151.1 L258.7,152.0 L258.9,153.0 L259.2,154.0 L259.4,155.0 L259.6,155.9 L259.9,156.9 L260.1,157.9 L260.4,158.9 L260.6,159.8 L260.9,160.8 L261.1,161.8 L261.4,162.8 L261.6,163.7 L261.9,164.7 L262.1,165.7 L262.3,166.6 L262.5,167.6 L262.7,168.6 L262.9,169.6 L263.1,170.6 L263.3,171.5 L263.5,172.5 L263.6,173.5 L263.7,174.5 L263.9,175.5 L264.0,176.5 L264.1,177.5 L264.2,178.4 L264.3,179.4 L264.4,180.4 L264.4,181.4 L264.5,182.4 L264.6,183.4 L264.7,184.4 L264.7,185.4 L264.8,186.4 L264.9,187.4 L264.9,188.4 L265.0,189.4 L265.0,190.4 L265.1,191.4 L265.2,192.4 L265.2,193.4 L265.3,194.4 L265.4,195.4 L265.4,196.4 L265.5,197.4 L265.6,198.4 L265.7,199.4 L265.7,200.4 L265.8,201.4 L265.9,202.4 L266.0,203.4 L266.1,204.4 L266.1,205.4 L266.2,206.4 L266.3,207.4 L266.4,208.4 L266.5,209.4 L266.6,210.4 L266.7,211.4 L266.7,212.4 L266.8,213.4 L266.9,214.4 L267.0,215.4 L267.1,216.4 L267.2,217.4 L267.4,218.3 L267.5,219.3 L267.6,220.3 L267.7,221.3 L267.8,222.3 L268.0,223.3 L268.1,224.3 L268.3,225.3 L268.4,226.3 L268.5,227.3 L268.7,228.3 L268.8,229.2 L269.0,230.2 L269.2,231.2 L269.3,232.2 L269.5,233.2 L269.6,234.2 L269.8,235.2 L270.0,236.2 L270.1,237.1 L270.3,238.1 L270.5,239.1 L270.7,240.1 L270.8,241.1 L271.0,242.1 L271.2,243.1 L271.4,244.0 L271.6,245.0 L271.8,246.0 L272.0,247.0 L272.2,248.0 L272.4,248.9 L272.6,249.9 L272.8,250.9 L273.0,251.9 L273.2,252.9 L273.5,253.8 L273.7,254.8 L273.9,255.8 L274.2,256.7 L274.4,257.7 L274.7,258.7 L275.0,259.6 L275.2,260.6 L275.5,261.5 L275.8,262.5 L276.1,263.5 L276.4,264.4 L276.7,265.4 L277.0,266.3 L277.3,267.3 L277.6,268.3 L277.9,269.2 L278.2,270.2 L278.5,271.1 L278.8,272.1 L279.1,273.0 L279.4,274.0 L279.7,274.9 L280.0,275.9 L280.3,276.8 L280.7,277.8 L281.0,278.7 L281.3,279.7 L281.6,280.6 L281.9,281.6 L282.3,282.5 L282.6,283.5 L283.0,284.4 L283.3,285.3 L283.6,286.3 L284.0,287.2 L284.4,288.1 L284.7,289.1 L285.1,290.0 L285.5,290.9 L285.9,291.8 L286.3,292.7 L286.8,293.6 L287.2,294.5 L287.7,295.4 L288.1,296.3 L288.6,297.2 L289.0,298.1 L289.5,299.0 L289.9,299.9 L290.3,300.8 L290.8,301.7 L291.2,302.6 L291.6,303.5 L292.0,304.4 L292.5,305.3 L292.9,306.2 L293.4,307.1 L293.8,308.0 L294.3,308.9 L294.8,309.7 L295.3,310.6 L295.9,311.4 L296.4,312.2 L297.0,313.1 L297.6,313.9 L298.2,314.7 L298.8,315.5 L299.4,316.3 L300.0,317.1 L300.6,317.9 L301.2,318.7 L301.8,319.5 L302.4,320.3 L303.0,321.1 L303.6,321.8 L304.2,322.6 L304.8,323.4 L305.4,324.2 L306.1,325.0 L306.7,325.8 L307.3,326.6 L307.9,327.4 L308.5,328.2 L309.1,329.0 L309.7,329.8 L310.3,330.6 L310.9,331.4 L311.5,332.2 L312.1,333.0 L312.7,333.8 L313.3,334.6 L313.9,335.4 L314.5,336.2 L315.1,337.0 L315.7,337.8 L316.3,338.6 L316.9,339.4 L317.5,340.2 L318.1,341.0 L318.7,341.8 L319.3,342.6 L319.9,343.4 L320.5,344.2 L321.1,345.0 L321.7,345.8 L322.3,346.6 L322.9,347.4 L323.5,348.2 L324.1,349.0 L324.7,349.8 L325.3,350.6 L326.0,351.4 L326.6,352.1 L327.2,352.9 L327.8,353.7 L328.5,354.5 L329.1,355.2 L329.8,356.0 L330.4,356.8 L331.0,357.5 L331.7,358.3 L332.3,359.1 L333.0,359.8 L333.7,360.6 L334.3,361.3 L335.0,362.1 L335.6,362.8 L336.3,363.6 L337.0,364.3 L337.6,365.1 L338.3,365.8 L339.0,366.6 L339.6,367.3 L340.3,368.1 L340.9,368.8 L341.6,369.6 L342.3,370.3 L342.9,371.0 L343.6,371.8 L344.3,372.5 L345.0,373.3 L345.6,374.0 L346.3,374.8 L347.0,375.5 L347.6,376.2 L348.3,377.0 L349.0,377.7 L349.6,378.5 L350.3,379.2 L351.0,380.0 L351.6,380.8 L352.2,381.5 L352.9,382.3 L353.5,383.1 L354.2,383.8 L354.8,384.6 L355.4,385.4 L356.1,386.2 L356.7,386.9 L357.3,387.7 L358.0,388.5 L358.6,389.2 L359.3,390.0 L360.0,390.7 L360.6,391.4 L361.3,392.2 L362.0,392.9 L362.7,393.6 L363.4,394.3 L364.1,395.1 L364.8,395.8 L365.5,396.5 L366.2,397.2 L366.9,397.9 L367.6,398.6 L368.4,399.3 L369.1,400.0 L369.8,400.7 L370.6,401.4 L371.3,402.1 L372.0,402.7 L372.8,403.4 L373.5,404.1 L374.3,404.7 L375.0,405.4 L375.8,406.0 L376.5,406.7 L377.3,407.3 L378.1,408.0 L378.8,408.6 L379.6,409.2 L380.4,409.8 L381.2,410.5 L382.0,411.1 L382.8,411.7 L383.5,412.3 L384.3,412.9 L385.2,413.5 L386.0,414.1 L386.8,414.7 L387.6,415.3 L388.4,415.9 L389.2,416.5 L390.1,417.0 L390.9,417.6 L391.7,418.1 L392.6,418.7 L393.4,419.2 L394.2,419.8 L395.1,420.3 L395.9,420.8 L396.8,421.3 L397.7,421.8 L398.5,422.3 L399.4,422.8 L400.3,423.3 L401.1,423.8 L402.0,424.3 L402.9,424.7 L403.8,425.2 L404.7,425.7 L405.6,426.1 L406.5,426.5 L407.4,427.0 L408.3,427.4 L409.2,427.8 L410.2,428.2 L411.1,428.6 L412.0,429.0 L412.9,429.4 L413.8,429.7 L414.8,430.0 L415.7,430.4 L416.7,430.7 L417.6,431.0 L418.6,431.3 L419.5,431.6 L420.5,431.9 L421.4,432.2 L422.4,432.5 L423.4,432.7 L424.3,433.0 L425.3,433.3 L426.3,433.5 L427.2,433.8 L428.2,434.0 L429.2,434.2 L430.2,434.4 L431.2,434.6 L432.1,434.8 L433.1,435.0 L434.1,435.2 L435.1,435.4 L436.1,435.6 L437.1,435.7 L438.0,435.9 L439.0,436.0 L440.0,436.2 L441.0,436.3 L442.0,436.5 L443.0,436.6 L444.0,436.8 L445.0,436.9 L446.0,437.1 L447.0,437.2 L447.9,437.4 L448.9,437.5 L449.9,437.6 L450.9,437.8 L451.9,437.9 L452.9,438.1 L453.9,438.2 L454.9,438.3 L455.9,438.4 L456.9,438.5 L457.9,438.7 L458.9,438.8 L459.9,438.9 L460.9,439.0 L461.9,439.0 L462.8,439.1 L463.8,439.2 L464.8,439.3 L465.8,439.3 L466.8,439.4 L467.8,439.4 L468.8,439.5 L469.8,439.5 L470.8,439.6 L471.8,439.6 L472.8,439.7 L473.8,439.7 L474.8,439.7 L475.8,439.8 L476.8,439.8 L477.8,439.8 L478.8,439.9 L479.8,439.9 L480.8,439.9 L481.8,440.0 L482.8,440.0 L483.8,440.0 L484.8,440.1 L485.8,440.1 L486.8,440.2 L487.8,440.2 L488.8,440.3 L489.8,440.3 L490.8,440.4 L491.8,440.4 L492.8,440.5 L493.8,440.6 L494.8,440.6 L495.8,440.7 L496.8,440.8 L497.8,440.9 L498.8,440.9 L499.8,441.0 L500.8,441.1 L501.8,441.2 L502.8,441.3 L503.8,441.3 L504.8,441.4 L505.8,441.5 L506.8,441.6 L507.8,441.6 L508.8,441.7 L509.8,441.8 L510.8,441.8 L511.8,441.9 L512.8,442.0 L513.8,442.0 L514.8,442.1 L515.8,442.1 L516.8,442.2 L517.8,442.2 L518.8,442.3 L519.8,442.4 L520.8,442.4 L521.8,442.5 L522.8,442.5 L523.8,442.6 L524.8,442.6 L525.8,442.7 L526.8,442.7 L527.8,442.8 L528.8,442.8 L529.8,442.8 L530.8,442.9 L531.8,442.9 L532.8,443.0" stroke="#f00"/>
<path d="M66.5,106.4 L67.5,106.4 L68.5,106.4 L69.5,106.4 L70.5,106.4 L71.5,106.4 L72.5,106.4 L73.5,106.4 L74.5,106.4 L75.5,106.4 L76.5,106.4 L77.5,106.4 L78.5,106.4 L79.5,106.4 L80.5,106.4 L81.5,106.4 L82.5,106.4 L83.5,106.4 L84.5,106.4 L85.5,106.4 L86.5,106.4 L87.5,106.4 L88.5,106.4 L89.5,106.4 L90.5,106.4 L91.5,106.4 L92.5,106.4 L93.5,106.4 L94.5,106.4 L95.5,106.4 L96.5,106.4 L97.5,106.4 L98.5,106.4 L99.5,106.4 L100.5,106.4 L101.5,106.4 L102.5,106.4 L103.5,106.4 L104.5,106.4 L105.5,106.4 L106.5,106.4 L107.5,106.4 L108.5,106.4 L109.5,106.4 L110.5,106.4 L111.5,106.4 L112.5,106.4 L113.5,106.4 L114.5,106.4 L115.5,106.4 L116.5,106.5 L117.5,106.5 L118.5,106.5 L119.5,106.5 L120.5,106.5 L121.5,106.5 L122.5,106.5 L123.5,106.5 L124.5,106.5 L125.5,106.5 L126.5,106.5 L127.5,106.5 L128.5,106.5 L129.5,106.5 L130.5,106.5 L131.5,106.5 L132.5,106.5 L133.5,106.5 L134.5,106.5 L135.5,106.5 L136.5,106.5 L137.5,106.5 L138.5,106.5 L139.5,106.6 L140.5,106.6 L141.5,106.6 L142.5,106.6 L143.5,106.6 L144.5,106.6 L145.5,106.6 L146.5,106.6 L147.5,106.6 L148.5,106.6 L149.5,106.6 L150.5,106.6 L151.5,106.6 L152.5,106.6 L153.5,106.7 L154.5,106.7 L155.5,106.7 L156.5,106.7 L157.5,106.7 L158.5,106.7 L159.5,106.7 L160.5,106.7 L161.5,106.7 L162.5,106.7 L163.5,106.7 L164.5,106.8 L165.5,106.8 L166.5,106.8 L167.5,106.8 L168.5,106.8 L169.5,106.8 L170.5,106.9 L171.5,106.9 L172.5,106.9 L173.5,106.9 L174.5,107.0 L175.5,107.0 L176.5,107.1 L177.5,107.1 L178.5,107.1 L179.5,107.2 L180.5,107.2 L181.5,107.3 L182.5,107.4 L183.5,107.4 L184.5,107.5 L185.5,107.5 L186.5,107.6 L187.5,107.7 L188.5,107.7 L189.5,107.8 L190.5,107.9 L191.5,108.0 L192.5,108.1 L193.5,108.2 L194.5,108.3 L195.5,108.4 L196.5,108.5 L197.5,108.7 L198.4,108.8 L199.4,108.9 L200.4,109.0 L201.4,109.2 L202.4,109.3 L203.4,109.5 L204.4,109.6 L205.4,109.8 L206.4,109.9 L207.4,110.1 L208.3,110.2 L209.3,110.4 L210.3,110.6 L211.3,110.8 L212.3,110.9 L213.3,111.1 L214.2,111.3 L215.2,111.5 L216.2,111.7 L217.2,111.9 L218.2,112.1 L219.1,112.3 L220.1,112.6 L221.1,112.8 L222.1,113.0 L223.0,113.3 L224.0,113.5 L225.0,113.8 L225.9,114.0 L226.9,114.3 L227.9,114.5 L228.8,114.8 L229.8,115.1 L230.7,115.4 L231.7,115.7 L232.7,116.0 L233.6,116.3 L234.5,116.6 L235.5,117.0 L236.4,117.3 L237.3,117.7 L238.3,118.1 L239.2,118.5 L240.1,118.9 L241.0,119.3 L241.9,119.7 L242.8,120.1 L243.7,120.6 L244.6,121.0 L245.5,121.5 L246.4,122.0 L247.3,122.5 L248.1,123.0 L249.0,123.5 L249.8,124.0 L250.7,124.6 L251.5,125.1 L252.3,125.7 L253.1,126.3 L253.9,127.0 L254.6,127.6 L255.4,128.3 L256.1,129.0 L256.8,129.7 L257.5,130.4 L258.2,131.1 L258.8,131.9 L259.5,132.6 L260.1,133.4 L260.7,134.2 L261.4,135.0 L261.9,135.8 L262.5,136.6 L263.0,137.4 L263.6,138.3 L264.0,139.1 L264.5,140.0 L264.9,140.9 L265.3,141.9 L265.6,142.8 L266.0,143.7 L266.3,144.7 L266.6,145.6 L266.9,146.6 L267.2,147.5 L267.5,148.5 L267.7,149.5 L268.0,150.4 L268.2,151.4 L268.4,152.4 L268.6,153.4 L268.8,154.4 L269.0,155.3 L269.2,156.3 L269.4,157.3 L269.6,158.3 L269.7,159.3 L269.9,160.3 L270.0,161.2 L270.2,162.2 L270.3,163.2 L270.4,164.2 L270.6,165.2 L270.7,166.2 L270.8,167.2 L271.0,168.2 L271.1,169.2 L271.2,170.2 L271.3,171.2 L271.4,172.2 L271.5,173.2 L271.7,174.2 L271.8,175.1 L271.9,176.1 L272.0,177.1 L272.1,178.1 L272.2,179.1 L272.3,180.1 L272.4,181.1 L272.5,182.1 L272.6,183.1 L272.7,184.1 L272.8,185.1 L272.9,186.1 L273.0,187.1 L273.1,188.1 L273.2,189.1 L273.3,190.1 L273.4,191.1 L273.5,192.1 L273.6,193.1 L273.7,194.1 L273.8,195.0 L273.9,196.0 L274.0,197.0 L274.1,198.0 L274.2,199.0 L274.3,200.0 L274.4,201.0 L274.5,202.0 L274.6,203.0 L274.7,204.0 L274.9,205.0 L275.0,206.0 L275.1,207.0 L275.2,208.0 L275.3,209.0 L275.4,210.0 L275.5,211.0 L275.7,211.9 L275.8,212.9 L275.9,213.9 L276.0,214.9 L276.1,215.9 L276.3,216.9 L276.4,217.9 L276.5,218.9 L276.6,219.9 L276.8,220.9 L276.9,221.9 L277.0,222.9 L277.2,223.9 L277.3,224.8 L277.4,225.8 L277.6,226.8 L277.7,227.8 L277.9,228.8 L278.0,229.8 L278.2,230.8 L278.3,231.8 L278.4,232.8 L278.6,233.8 L278.8,234.7 L278.9,235.7 L279.1,236.7 L279.2,237.7 L279.4,238.7 L279.5,239.7 L279.7,240.7 L279.9,241.7 L280.0,242.6 L280.2,243.6 L280.4,244.6 L280.5,245.6 L280.7,246.6 L280.9,247.6 L281.1,248.6 L281.3,249.5 L281.4,250.5 L281.6,251.5 L281.8,252.5 L282.0,253.5 L282.2,254.4 L282.4,255.4 L282.6,256.4 L282.8,257.4 L283.0,258.4 L283.2,259.3 L283.4,260.3 L283.7,261.3 L283.9,262.3 L284.1,263.2 L284.3,264.2 L284.6,265.2 L284.8,266.2 L285.0,267.1 L285.3,268.1 L285.5,269.1 L285.7,270.1 L286.0,271.0 L286.2,272.0 L286.5,273.0 L286.7,273.9 L287.0,274.9 L287.2,275.9 L287.5,276.8 L287.7,277.8 L288.0,278.8 L288.3,279.7 L288.5,280.7 L288.8,281.7 L289.1,282.6 L289.4,283.6 L289.7,284.6 L290.0,285.5 L290.3,286.5 L290.6,287.4 L290.9,288.4 L291.2,289.3 L291.6,290.2 L291.9,291.2 L292.3,292.1 L292.7,293.0 L293.1,293.9 L293.5,294.8 L293.9,295.8 L294.3,296.7 L294.8,297.5 L295.2,298.4 L295.7,299.3 L296.2,300.2 L296.7,301.1 L297.2,301.9 L297.7,302.8 L298.2,303.6 L298.7,304.5 L299.3,305.3 L299.8,306.2 L300.4,307.0 L300.9,307.9 L301.4,308.7 L302.0,309.5 L302.5,310.4 L303.1,311.2 L303.6,312.1 L304.2,312.9 L304.7,313.7 L305.3,314.6 L305.8,315.4 L306.4,316.2 L307.0,317.1 L307.5,317.9 L308.1,318.7 L308.6,319.5 L309.2,320.4 L309.8,321.2 L310.3,322.0 L310.9,322.8 L311.5,323.6 L312.1,324.5 L312.6,325.3 L313.2,326.1 L313.8,326.9 L314.4,327.7 L314.9,328.6 L315.5,329.4 L316.1,330.2 L316.6,331.0 L317.2,331.9 L317.8,332.7 L318.3,333.5 L318.9,334.3 L319.4,335.2 L320.0,336.0 L320.5,336.8 L321.1,337.7 L321.6,338.5 L322.2,339.4 L322.7,340.2 L323.2,341.0 L323.8,341.9 L324.3,342.7 L324.9,343.6 L325.4,344.4 L325.9,345.3 L326.5,346.1 L327.0,346.9 L327.6,347.8 L328.1,348.6 L328.7,349.5 L329.2,350.3 L329.8,351.1 L330.3,352.0 L330.9,352.8 L331.4,353.6 L332.0,354.4 L332.6,355.3 L333.1,356.1 L333.7,356.9 L334.3,357.7 L334.8,358.6 L335.4,359.4 L336.0,360.2 L336.6,361.0 L337.2,361.8 L337.8,362.6 L338.3,363.4 L338.9,364.2 L339.5,365.0 L340.1,365.8 L340.7,366.6 L341.4,367.4 L342.0,368.2 L342.6,369.0 L343.2,369.8 L343.9,370.5 L344.5,371.3 L345.2,372.1 L345.8,372.8 L346.5,373.6 L347.1,374.3 L347.8,375.1 L348.4,375.8 L349.1,376.6 L349.7,377.4 L350.4,378.1 L351.0,378.9 L351.6,379.7 L352.3,380.5 L352.9,381.3 L353.5,382.0 L354.1,382.8 L354.7,383.6 L355.3,384.4 L355.9,385.2 L356.5,386.0 L357.2,386.8 L357.8,387.6 L358.4,388.4 L359.1,389.1 L359.7,389.9 L360.4,390.6 L361.0,391.4 L361.7,392.1 L362.4,392.8 L363.1,393.6 L363.8,394.3 L364.5,395.0 L365.2,395.7 L365.9,396.4 L366.6,397.1 L367.3,397.8 L368.0,398.5 L368.8,399.2 L369.5,399.9 L370.2,400.6 L371.0,401.3 L371.7,401.9 L372.5,402.6 L373.2,403.3 L374.0,403.9 L374.7,404.6 L375.5,405.2 L376.3,405.9 L377.0,406.5 L377.8,407.1 L378.6,407.8 L379.3,408.4 L380.1,409.0 L380.9,409.6 L381.7,410.3 L382.5,410.9 L383.3,411.5 L384.1,412.1 L384.9,412.7 L385.7,413.3 L386.5,413.9 L387.3,414.5 L388.1,415.1 L389.0,415.6 L389.8,416.2 L390.6,416.8 L391.5,417.3 L392.3,417.9 L393.1,418.4 L394.0,418.9 L394.8,419.4 L395.7,419.9 L396.5,420.4 L397.4,420.9 L398.3,421.4 L399.2,421.9 L400.0,422.4 L400.9,422.9 L401.8,423.4 L402.7,423.8 L403.6,424.3 L404.5,424.7 L405.4,425.2 L406.3,425.6 L407.2,426.0 L408.1,426.5 L409.0,426.9 L410.0,427.2 L410.9,427.6 L411.8,428.0 L412.7,428.3 L413.7,428.7 L414.6,429.0 L415.6,429.3 L416.5,429.6 L417.5,429.9 L418.4,430.2 L419.4,430.5 L420.3,430.8 L421.3,431.0 L422.3,431.3 L423.3,431.5 L424.2,431.8 L425.2,432.0 L426.2,432.2 L427.2,432.4 L428.2,432.6 L429.1,432.8 L430.1,433.0 L431.1,433.1 L432.1,433.3 L433.1,433.4 L434.1,433.5 L435.1,433.6 L436.1,433.7 L437.1,433.8 L438.1,433.9 L439.1,433.9 L440.1,434.0 L441.1,434.1 L442.1,434.2 L443.1,434.3 L444.1,434.4 L445.1,434.4 L446.0,434.5 L447.0,434.6 L448.0,434.7 L449.0,434.8 L450.0,434.9 L451.0,435.0 L452.0,435.1 L453.0,435.2 L454.0,435.3 L455.0,435.3 L456.0,435.4 L457.0,435.5 L458.0,435.5 L459.0,435.6 L460.0,435.6 L461.0,435.7 L462.0,435.7 L463.0,435.7 L464.0,435.8 L465.0,435.8 L466.0,435.8 L467.0,435.8 L468.0,435.8 L469.0,435.8 L470.0,435.8 L471.0,435.8 L472.0,435.8 L473.0,435.8 L474.0,435.8 L475.0,435.8 L476.0,435.8 L477.0,435.8 L478.0,435.8 L479.0,435.8 L480.0,435.8 L481.0,435.8 L482.0,435.8 L483.0,435.8 L484.0,435.8 L485.0,435.8 L486.0,435.8 L487.0,435.8 L488.0,435.8 L489.0,435.8 L490.0,435.8 L491.0,435.8 L492.0,435.8 L493.0,435.8 L494.0,435.8 L495.0,435.7 L496.0,435.7 L497.0,435.7 L498.0,435.7 L499.0,435.6 L500.0,435.6 L501.0,435.6 L502.0,435.6 L503.0,435.5 L504.0,435.5 L505.0,435.5 L506.0,435.4 L507.0,435.4 L508.0,435.4 L509.0,435.3 L510.0,435.3 L511.0,435.3 L512.0,435.2 L513.0,435.2 L514.0,435.2 L515.0,435.1 L516.0,435.1 L517.0,435.1 L518.0,435.1 L519.0,435.0 L520.0,435.0 L521.0,435.0 L522.0,434.9 L523.0,434.9 L524.0,434.9 L525.0,434.8 L526.0,434.8 L527.0,434.7 L528.0,434.7 L529.0,434.7 L530.0,434.6 L531.0,434.6 L532.0,434.6 L533.0,434.5" stroke="#f00"/>
<path d="M440.4,481.0 L440.4,480.0 L440.4,479.0 L440.4,478.0 L440.4,477.0 L440.4,476.0 L440.4,475.0 L440.4,474.0 L440.4,473.0 L440.4,472.0 L440.4,471.0 L440.4,470.0 L440.4,469.0 L440.4,468.0 L440.4,467.0 L440.4,466.0 L440.4,465.0 L440.4,464.0 L440.4,463.0 L440.4,462.0 L440.4,461.0 L440.4,460.0 L440.4,459.0 L440.4,458.0 L440.4,457.0 L440.4,456.0 L440.4,455.0 L440.4,454.0 L440.4,453.0 L440.4,452.0 L440.4,451.0 L440.4,450.0 L440.4,449.0 L440.4,448.0 L440.4,447.0 L440.4,446.0 L440.4,445.0 L440.4,444.0 L440.4,443.0 L440.4,442.0 L440.4,441.0 L440.4,440.0 L440.4,439.0 L440.4,438.0 L440.4,437.0 L440.4,436.0 L440.4,435.0 L440.4,434.0 L440.4,433.0 L440.4,432.0 L440.4,431.0 L440.4,430.0 L440.4,429.0 L440.4,428.0 L440.4,427.0 L440.4,426.0 L440.4,425.0 L440.4,424.0 L440.4,423.0 L440.4,422.0 L440.4,421.0 L440.4,420.0 L440.4,419.0 L440.4,418.0 L440.4,417.0 L440.4,416.0 L440.4,415.0 L440.4,414.0 L440.4,413.0 L440.4,412.0 L440.4,411.0 L440.4,410.0 L440.4,409.0 L440.4,408.0 L440.4,407.0 L440.4,406.0 L440.4,405.0 L440.4,404.0 L440.4,403.0 L440.4,402.0 L440.4,401.0 L440.4,400.0 L440.4,399.0 L440.4,398.0 L440.4,397.0 L440.4,396.0 L440.4,395.0 L440.4,394.0 L440.4,393.0 L440.4,392.0 L440.4,391.0 L440.4,390.0 L440.3,389.0 L440.3,388.0 L440.3,387.0 L440.2,386.0 L440.2,385.0 L440.1,384.0 L440.1,383.0 L440.0,382.0 L439.9,381.0 L439.9,380.0 L439.8,379.0 L439.7,378.0 L439.6,377.0 L439.5,376.0 L439.5,375.0 L439.4,374.0 L439.3,373.0 L439.2,372.0 L439.1,371.0 L439.0,370.0 L438.9,369.0 L438.7,368.0 L438.6,367.0 L438.5,366.1 L438.3,365.1 L438.2,364.1 L438.0,363.1 L437.8,362.1 L437.7,361.1 L437.5,360.1 L437.4,359.1 L437.2,358.1 L437.0,357.2 L436.9,356.2 L436.7,355.2 L436.5,354.2 L436.4,353.2 L436.2,352.2 L436.0,351.2 L435.8,350.3 L435.6,349.3 L435.4,348.3 L435.2,347.3 L434.9,346.4 L434.7,345.4 L434.4,344.4 L434.1,343.5 L433.8,342.5 L433.5,341.6 L433.2,340.6 L432.8,339.7 L432.5,338.7 L432.1,337.8 L431.7,336.9 L431.3,335.9 L430.9,335.0 L430.4,334.1 L429.9,333.3 L429.4,332.4 L428.9,331.7 L428.3,330.9 L427.7,330.2 L427.1,329.5 L426.4,328.9 L425.7,328.2 L425.0,327.6 L424.2,327.0 L423.4,326.5 L422.6,325.9 L421.8,325.4 L420.9,324.9 L420.0,324.3 L419.1,323.8 L418.2,323.4 L417.2,322.9 L416.3,322.4 L415.3,322.0 L414.4,321.5 L413.4,321.1 L412.4,320.7 L411.5,320.3 L410.5,319.9 L409.5,319.6 L408.6,319.2 L407.6,318.8 L406.7,318.5 L405.7,318.2 L404.8,317.9 L403.8,317.6 L402.9,317.3 L401.9,317.0 L401.0,316.7 L400.0,316.4 L399.0,316.2 L398.1,315.9 L397.1,315.7 L396.1,315.5 L395.1,315.3 L394.1,315.1 L393.2,314.9 L392.2,314.7 L391.2,314.5 L390.2,314.4 L389.2,314.2 L388.2,314.1 L387.2,313.9 L386.2,313.8 L385.2,313.7 L384.3,313.5 L383.3,313.4 L382.3,313.3 L381.3,313.2 L380.3,313.0 L379.3,312.9 L378.3,312.8 L377.3,312.7 L376.3,312.6 L375.3,312.4 L374.3,312.3 L373.3,312.2 L372.3,312.1 L371.3,312.0 L370.3,311.9 L369.3,311.8 L368.4,311.7 L367.4,311.6 L366.4,311.5 L365.4,311.3 L364.4,311.2 L363.4,311.1 L362.4,311.0 L361.4,310.9 L360.4,310.8 L359.4,310.7 L358.4,310.6 L357.4,310.5 L356.4,310.4 L355.4,310.3 L354.4,310.2 L353.4,310.1 L352.4,310.0 L351.4,309.9 L350.4,309.7 L349.5,309.6 L348.5,309.5 L347.5,309.4 L346.5,309.3 L345.5,309.2 L344.5,309.0 L343.5,308.9 L342.5,308.8 L341.5,308.7 L340.5,308.6 L339.5,308.4 L338.5,308.3 L337.5,308.2 L336.5,308.1 L335.5,308.0 L334.5,307.8 L333.5,307.7 L332.5,307.6 L331.5,307.5 L330.5,307.4 L329.5,307.2 L328.5,307.1 L327.5,307.0 L326.5,306.9 L325.5,306.7 L324.5,306.6 L323.5,306.4 L322.5,306.3 L321.5,306.1 L320.5,306.0 L319.6,305.8 L318.6,305.7 L317.6,305.5 L316.6,305.3 L315.6,305.1 L314.7,305.0 L313.7,304.8 L312.7,304.6 L311.8,304.3 L310.8,304.1 L309.9,303.9 L308.9,303.6 L308.0,303.3 L307.0,303.0 L306.1,302.7 L305.2,302.3 L304.3,302.0 L303.3,301.6 L302.4,301.2 L301.5,300.8 L300.6,300.4 L299.6,299.9 L298.7,299.5 L297.8,299.1 L296.9,298.7 L296.0,298.3 L295.1,297.8 L294.2,297.4 L293.2,297.0 L292.3,296.6 L291.4,296.2 L290.5,295.8 L289.6,295.4 L288.7,295.0 L287.8,294.6 L286.8,294.2 L285.9,293.8 L285.0,293.3 L284.1,292.9 L283.2,292.5 L282.3,292.1 L281.4,291.7 L280.4,291.3 L279.5,290.9 L278.6,290.5 L277.7,290.1 L276.8,289.7 L275.9,289.3 L274.9,288.9 L274.0,288.5 L273.1,288.2 L272.2,287.8 L271.3,287.4 L270.3,287.0 L269.4,286.6 L268.5,286.2 L267.6,285.8 L266.7,285.3 L265.8,284.9 L264.9,284.5 L264.0,284.1 L263.1,283.7 L262.2,283.2 L261.3,282.8 L260.4,282.3 L259.5,281.9 L258.6,281.4 L257.7,281.0 L256.8,280.5 L255.9,280.1 L255.0,279.6 L254.1,279.1 L253.3,278.6 L252.4,278.1 L251.5,277.6 L250.7,277.1 L249.8,276.6 L248.9,276.1 L248.1,275.6 L247.3,275.0 L246.4,274.5 L245.6,273.9 L244.8,273.4 L243.9,272.8 L243.1,272.2 L242.3,271.7 L241.5,271.1 L240.7,270.5 L239.9,269.9 L239.1,269.3 L238.3,268.6 L237.5,268.0 L236.8,267.4 L236.0,266.8 L235.2,266.1 L234.5,265.5 L233.7,264.8 L232.9,264.2 L232.2,263.5 L231.4,262.8 L230.7,262.2 L229.9,261.5 L229.2,260.9 L228.4,260.2 L227.6,259.6 L226.9,258.9 L226.1,258.3 L225.3,257.6 L224.6,257.0 L223.8,256.4 L223.0,255.7 L222.2,255.1 L221.4,254.5 L220.7,253.9 L219.9,253.3 L219.1,252.6 L218.3,252.0 L217.5,251.4 L216.8,250.7 L216.0,250.1 L215.3,249.4 L214.5,248.8 L213.8,248.1 L213.0,247.4 L212.3,246.7 L211.6,246.0 L210.9,245.3 L210.2,244.6 L209.5,243.9 L208.8,243.2 L208.1,242.5 L207.4,241.7 L206.7,241.0 L206.1,240.3 L205.4,239.5 L204.7,238.8 L204.0,238.1 L203.3,237.3 L202.6,236.6 L201.9,235.9 L201.3,235.1 L200.6,234.4 L199.9,233.7 L199.2,233.0 L198.5,232.2 L197.8,231.5 L197.1,230.8 L196.5,230.1 L195.8,229.3 L195.1,228.6 L194.4,227.9 L193.7,227.1 L193.0,226.4 L192.3,225.7 L191.7,224.9 L191.0,224.2 L190.3,223.5 L189.6,222.7 L189.0,222.0 L188.3,221.3 L187.6,220.5 L186.9,219.8 L186.3,219.0 L185.6,218.3 L184.9,217.6 L184.2,216.8 L183.6,216.1 L182.9,215.4 L182.2,214.6 L181.5,213.9 L180.8,213.2 L180.1,212.4 L179.5,211.7 L178.8,211.0 L178.1,210.3 L177.4,209.5 L176.7,208.8 L176.0,208.1 L175.3,207.4 L174.6,206.7 L173.9,206.0 L173.2,205.3 L172.4,204.6 L171.7,203.9 L171.0,203.2 L170.3,202.5 L169.5,201.8 L168.8,201.1 L168.1,200.4 L167.4,199.8 L166.6,199.1 L165.9,198.4 L165.2,197.7 L164.5,197.0 L163.7,196.3 L163.0,195.6 L162.3,194.9 L161.6,194.2 L160.9,193.5 L160.2,192.8 L159.5,192.1 L158.8,191.4 L158.1,190.7 L157.4,189.9 L156.7,189.2 L156.0,188.5 L155.3,187.8 L154.6,187.1 L153.9,186.3 L153.2,185.6 L152.5,184.9 L151.8,184.1 L151.1,183.4 L150.4,182.7 L149.8,181.9 L149.1,181.2 L148.4,180.5 L147.7,179.7 L147.1,179.0 L146.4,178.2 L145.8,177.4 L145.1,176.7 L144.5,175.9 L143.9,175.1 L143.3,174.3 L142.7,173.5 L142.1,172.7 L141.5,171.9 L141.0,171.1 L140.4,170.3 L139.8,169.5 L139.3,168.7 L138.8,167.8 L138.2,167.0 L137.7,166.1 L137.2,165.3 L136.7,164.4 L136.2,163.5 L135.7,162.7 L135.2,161.8 L134.7,160.9 L134.2,160.0 L133.7,159.2 L133.2,158.3 L132.7,157.4 L132.2,156.6 L131.7,155.7 L131.2,154.8 L130.7,154.0 L130.1,153.1 L129.6,152.2 L129.1,151.4 L128.6,150.5 L128.1,149.6 L127.6,148.8 L127.0,147.9 L126.5,147.0 L126.0,146.2 L125.5,145.3 L125.0,144.4 L124.5,143.6 L124.1,142.7 L123.6,141.8 L123.1,140.9 L122.7,140.0 L122.3,139.1 L121.9,138.2 L121.5,137.3 L121.1,136.4 L120.7,135.5 L120.4,134.6 L120.0,133.6 L119.7,132.7 L119.4,131.7 L119.0,130.8 L118.7,129.8 L118.4,128.9 L118.1,127.9 L117.9,127.0 L117.6,126.0 L117.3,125.0 L117.0,124.0 L116.8,123.1 L116.5,122.1 L116.3,121.1 L116.1,120.2 L115.8,119.2 L115.6,118.2 L115.4,117.2 L115.1,116.3 L114.9,115.3 L114.7,114.3 L114.5,113.3 L114.3,112.3 L114.1,111.4 L113.9,110.4 L113.8,109.4 L113.6,108.4 L113.5,107.4 L113.3,106.4 L113.2,105.4 L113.1,104.5 L113.0,103.5 L112.9,102.5 L112.8,101.5 L112.7,100.5 L112.6,99.5 L112.6,98.5 L112.5,97.5 L112.4,96.5 L112.3,95.5 L112.2,94.5 L112.1,93.5 L112.0,92.5 L112.0,91.5 L111.9,90.5 L111.8,89.5 L111.7,88.5 L111.7,87.5 L111.6,86.5 L111.5,85.5 L111.5,84.5 L111.4,83.5 L111.3,82.5 L111.3,81.5 L111.2,80.5 L111.2,79.5 L111.1,78.5 L111.1,77.5 L111.0,76.5 L111.0,75.5 L110.9,74.5 L110.9,73.5 L110.8,72.5 L110.8,71.5 L110.8,70.5 L110.8,69.5 L110.7,68.5 L110.7,67.5 L110.7,66.5 L110.7,65.5 L110.6,64.5 L110.6,63.5 L110.6,62.5 L110.6,61.5 L110.6,60.5 L110.6,59.5 L110.6,58.5 L110.6,57.5 L110.6,56.5 L110.6,55.5 L110.6,54.5 L110.6,53.5 L110.6,52.5 L110.6,51.5 L110.6,50.5 L110.6,49.5 L110.6,48.5 L110.6,47.5 L110.7,46.5 L110.7,45.5 L110.7,44.5 L110.7,43.5 L110.7,42.5 L110.7,41.5 L110.7,40.5 L110.7,39.5 L110.8,38.5 L110.8,37.5 L110.8,36.5 L110.8,35.5 L110.8,34.5 L110.9,33.5 L110.9,32.5 L110.9,31.5 L110.9,30.5 L111.0,29.5 L111.0,28.5 L111.0,27.5 L111.1,26.5 L111.1,25.5 L111.1,24.5 L111.2,23.5 L111.2,22.5 L111.3,21.5 L111.3,20.5 L111.4,19.5 L111.4,18.5 L111.5,17.5 L111.5,16.5 L111.6,15.5 L111.6,14.5 L111.7,13.5 L111.8,12.5" stroke="#00f"/>
</g>
<g fill="none" stroke="#0f0" stroke-width="3">
<rect x="162.3" y="126.7" width="63.3" height="63.6"/>
<rect x="168.6" y="130.3" width="66.6" height="67.0"/>
<rect x="172.7" y="131.5" width="69.4" height="70.8"/>
<rect x="180.5" y="131.8" width="71.1" height="71.7"/>
<rect x="184.3" y="133.7" width="76.5" height="76.8"/>
<rect x="340.3" y="289.6" width="77.1" height="76.9"/>
<rect x="347.5" y="298.6" width="71.3" height="73.4"/>
<rect x="351.0" y="311.5" width="69.5" height="70.3"/>
<rect x="357.0" y="319.3" width="66.9" height="66.5"/>
<rect x="365.3" y="330.8" width="63.3" height="61.9"/>
</g>
<g font-size="19.8" text-anchor="middle">
<text x="66.5" y="503.6">0.0</text>
<text x="159.9" y="503.6">0.2</text>
<text x="253.3" y="503.6">0.4</text>
<text x="346.7" y="503.6">0.6</text>
<text x="440.1" y="503.6">0.8</text>
<text x="533.5" y="503.6">1.0</text>
</g><g font-size="19.8" text-anchor="end">
<text x="58.5" y="486.3">0.0</text>
<text x="58.5" y="392.9">0.2</text>
<text x="58.5" y="299.5">0.4</text>
<text x="58.5" y="206.2">0.6</text>
<text x="58.5" y="112.8">0.8</text>
<text x="58.5" y="19.4">1.0</text>
</g>
<text x="300.2" y="539" font-size="23" text-anchor="middle">VQ [V]</text>
<text transform="translate(25.4,247.1) rotate(-90)" font-size="23" text-anchor="middle">VQB [V]</text>
<text x="354" y="87" font-size="23.3">Read SNM</text>
<text x="76.1" y="449.6" font-size="23.1">RSNM = (RSNML + RSNMR)/2</text>
<text x="186.6" y="160.1" font-size="19.2">RSNML</text>
<text x="343.4" y="327.3" font-size="19.2">RSNMR</text>
<path d="M188.0,169.0H256.0" stroke="#000" stroke-width="2"/><path d="M183.0,169.0l11.3,-3.4v6.8z M261.0,169.0l-11.3,-3.4v6.8z" fill="#000"/>
<path d="M345.3,335.5H412.3" stroke="#000" stroke-width="2"/><path d="M340.3,335.5l11.3,-3.4v6.8z M417.3,335.5l-11.3,-3.4v6.8z" fill="#000"/>
</svg></body></html>
